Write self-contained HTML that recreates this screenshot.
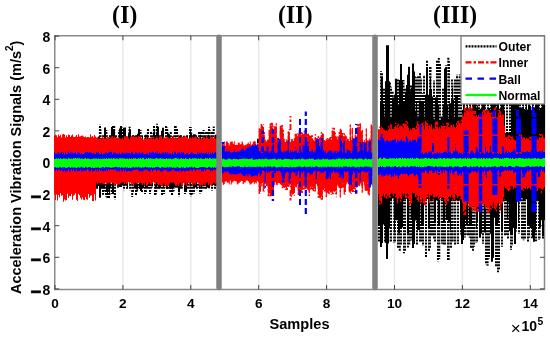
<!DOCTYPE html>
<html><head><meta charset="utf-8"><style>
html,body{margin:0;padding:0;background:#fff;overflow:hidden}
svg{display:block}
</style></head><body>
<svg width="550" height="338" viewBox="0 0 550 338">
<rect width="550" height="338" fill="#fff"/>
<line x1="122.90" y1="35.75" x2="122.90" y2="289.5" stroke="#e8e8e8" stroke-width="1.4"/>
<line x1="190.80" y1="35.75" x2="190.80" y2="289.5" stroke="#e8e8e8" stroke-width="1.4"/>
<line x1="258.70" y1="35.75" x2="258.70" y2="289.5" stroke="#e8e8e8" stroke-width="1.4"/>
<line x1="326.60" y1="35.75" x2="326.60" y2="289.5" stroke="#e8e8e8" stroke-width="1.4"/>
<line x1="394.50" y1="35.75" x2="394.50" y2="289.5" stroke="#e8e8e8" stroke-width="1.4"/>
<line x1="462.40" y1="35.75" x2="462.40" y2="289.5" stroke="#e8e8e8" stroke-width="1.4"/>
<line x1="530.30" y1="35.75" x2="530.30" y2="289.5" stroke="#e8e8e8" stroke-width="1.4"/>
<rect x="54.75" y="35.75" width="489.75" height="253.75" fill="none" stroke="#8a8a8a" stroke-width="1.5"/>
<line x1="55.0" y1="289.5" x2="55.0" y2="285.0" stroke="#444" stroke-width="1"/>
<line x1="55.0" y1="35.75" x2="55.0" y2="40.25" stroke="#444" stroke-width="1"/>
<line x1="122.9" y1="289.5" x2="122.9" y2="285.0" stroke="#444" stroke-width="1"/>
<line x1="122.9" y1="35.75" x2="122.9" y2="40.25" stroke="#444" stroke-width="1"/>
<line x1="190.8" y1="289.5" x2="190.8" y2="285.0" stroke="#444" stroke-width="1"/>
<line x1="190.8" y1="35.75" x2="190.8" y2="40.25" stroke="#444" stroke-width="1"/>
<line x1="258.70000000000005" y1="289.5" x2="258.70000000000005" y2="285.0" stroke="#444" stroke-width="1"/>
<line x1="258.70000000000005" y1="35.75" x2="258.70000000000005" y2="40.25" stroke="#444" stroke-width="1"/>
<line x1="326.6" y1="289.5" x2="326.6" y2="285.0" stroke="#444" stroke-width="1"/>
<line x1="326.6" y1="35.75" x2="326.6" y2="40.25" stroke="#444" stroke-width="1"/>
<line x1="394.5" y1="289.5" x2="394.5" y2="285.0" stroke="#444" stroke-width="1"/>
<line x1="394.5" y1="35.75" x2="394.5" y2="40.25" stroke="#444" stroke-width="1"/>
<line x1="462.40000000000003" y1="289.5" x2="462.40000000000003" y2="285.0" stroke="#444" stroke-width="1"/>
<line x1="462.40000000000003" y1="35.75" x2="462.40000000000003" y2="40.25" stroke="#444" stroke-width="1"/>
<line x1="530.3000000000001" y1="289.5" x2="530.3000000000001" y2="285.0" stroke="#444" stroke-width="1"/>
<line x1="530.3000000000001" y1="35.75" x2="530.3000000000001" y2="40.25" stroke="#444" stroke-width="1"/>
<line x1="54.75" y1="288.9" x2="59.25" y2="288.9" stroke="#444" stroke-width="1"/>
<line x1="544.5" y1="288.9" x2="540.0" y2="288.9" stroke="#444" stroke-width="1"/>
<line x1="54.75" y1="257.3" x2="59.25" y2="257.3" stroke="#444" stroke-width="1"/>
<line x1="544.5" y1="257.3" x2="540.0" y2="257.3" stroke="#444" stroke-width="1"/>
<line x1="54.75" y1="225.7" x2="59.25" y2="225.7" stroke="#444" stroke-width="1"/>
<line x1="544.5" y1="225.7" x2="540.0" y2="225.7" stroke="#444" stroke-width="1"/>
<line x1="54.75" y1="194.1" x2="59.25" y2="194.1" stroke="#444" stroke-width="1"/>
<line x1="544.5" y1="194.1" x2="540.0" y2="194.1" stroke="#444" stroke-width="1"/>
<line x1="54.75" y1="162.5" x2="59.25" y2="162.5" stroke="#444" stroke-width="1"/>
<line x1="544.5" y1="162.5" x2="540.0" y2="162.5" stroke="#444" stroke-width="1"/>
<line x1="54.75" y1="130.9" x2="59.25" y2="130.9" stroke="#444" stroke-width="1"/>
<line x1="544.5" y1="130.9" x2="540.0" y2="130.9" stroke="#444" stroke-width="1"/>
<line x1="54.75" y1="99.3" x2="59.25" y2="99.3" stroke="#444" stroke-width="1"/>
<line x1="544.5" y1="99.3" x2="540.0" y2="99.3" stroke="#444" stroke-width="1"/>
<line x1="54.75" y1="67.69999999999999" x2="59.25" y2="67.69999999999999" stroke="#444" stroke-width="1"/>
<line x1="544.5" y1="67.69999999999999" x2="540.0" y2="67.69999999999999" stroke="#444" stroke-width="1"/>
<line x1="54.75" y1="36.099999999999994" x2="59.25" y2="36.099999999999994" stroke="#444" stroke-width="1"/>
<line x1="544.5" y1="36.099999999999994" x2="540.0" y2="36.099999999999994" stroke="#444" stroke-width="1"/>
<path d="M97.0,162.0V137.0M100.0,162.0V124.4M103.0,162.0V134.4M107.0,162.0V134.5M110.0,162.0V134.9M113.0,162.0V125.2M116.0,162.0V135.0M119.0,162.0V130.5M123.0,162.0V130.3M127.0,162.0V136.5M130.0,162.0V129.4M133.0,162.0V134.3M136.0,162.0V135.3M139.0,162.0V133.8M142.0,162.0V134.5M145.0,162.0V135.1M148.0,162.0V128.6M151.0,162.0V132.1M154.0,162.0V125.2M157.0,162.0V123.7M160.0,162.0V133.9M163.0,162.0V134.4M166.0,162.0V124.8M169.0,162.0V134.7M172.0,162.0V136.7M175.0,162.0V125.7M178.0,162.0V134.4M181.0,162.0V134.0M184.0,162.0V135.8M187.0,162.0V134.9M190.0,162.0V127.0M193.0,162.0V135.0M196.0,162.0V135.1M199.0,162.0V131.8M202.0,162.0V131.5M206.0,162.0V132.0M209.0,162.0V126.8M212.0,162.0V130.9M216.0,162.0V134.8M99.9,162.0V126.7M100.5,162.0V129.5M106.4,162.0V130.0M111.9,162.0V129.2M113.0,162.0V125.9M114.1,162.0V127.3M114.2,162.0V126.0M120.5,162.0V129.5M120.9,162.0V126.5M122.4,162.0V127.5M129.4,162.0V129.9M129.6,162.0V126.7M140.6,162.0V130.1M147.9,162.0V132.0M152.3,162.0V133.6M154.3,162.0V127.7M156.2,162.0V134.3M157.6,162.0V126.8M162.1,162.0V132.6M167.2,162.0V127.4M170.8,162.0V131.1M175.7,162.0V125.8M176.6,162.0V134.4M177.0,162.0V128.3M190.7,162.0V127.1M192.4,162.0V133.7M200.1,162.0V131.7M203.6,162.0V130.1M204.2,162.0V133.3M207.4,162.0V132.1M209.8,162.0V130.2M213.7,162.0V126.6M97.0,162.0V189.9M100.0,162.0V187.0M103.0,162.0V194.8M106.0,162.0V196.4M109.0,162.0V198.3M112.0,162.0V194.0M115.0,162.0V199.4M118.0,162.0V187.7M121.0,162.0V186.6M124.0,162.0V190.3M127.0,162.0V189.9M130.0,162.0V190.2M133.0,162.0V192.7M136.0,162.0V195.0M139.0,162.0V188.2M142.0,162.0V192.5M145.0,162.0V194.1M148.0,162.0V188.9M152.0,162.0V187.4M155.0,162.0V195.1M159.0,162.0V189.8M162.0,162.0V195.8M165.0,162.0V187.6M168.0,162.0V189.0M172.0,162.0V195.0M176.0,162.0V186.8M179.0,162.0V196.2M182.0,162.0V188.5M185.0,162.0V194.1M188.0,162.0V189.3M191.0,162.0V196.3M194.0,162.0V193.4M197.0,162.0V190.3M200.0,162.0V193.5M203.0,162.0V188.4M206.0,162.0V190.0M209.0,162.0V188.2M212.0,162.0V190.4M215.0,162.0V189.0M104.0,162.0V191.5M107.4,162.0V198.8M109.4,162.0V195.3M112.5,162.0V192.7M114.8,162.0V197.9M115.0,162.0V194.5M132.2,162.0V196.9M137.1,162.0V191.6M142.5,162.0V189.1M145.9,162.0V193.0M147.7,162.0V187.7M150.0,162.0V194.1M150.9,162.0V190.2M155.8,162.0V194.5M156.2,162.0V193.1M157.7,162.0V188.7M159.6,162.0V188.1M162.8,162.0V193.6M163.4,162.0V190.9M164.1,162.0V194.0M170.2,162.0V192.0M172.6,162.0V192.9M173.6,162.0V191.3M179.0,162.0V194.8M180.8,162.0V188.7M186.1,162.0V192.0M186.8,162.0V188.5M190.1,162.0V191.9M190.2,162.0V194.3M192.0,162.0V194.5M192.5,162.0V191.1M193.8,162.0V190.5M198.3,162.0V187.8M201.1,162.0V189.3M201.2,162.0V192.9M201.8,162.0V190.2M204.3,162.0V188.7M381.0,162.0V71.2M384.0,162.0V87.8M388.0,162.0V86.1M391.0,162.0V86.7M395.0,162.0V95.8M398.0,162.0V78.8M401.0,162.0V88.4M405.0,162.0V88.4M408.0,162.0V99.8M412.0,162.0V89.9M415.0,162.0V76.5M418.0,162.0V75.2M421.0,162.0V78.1M424.0,162.0V75.0M427.0,162.0V59.8M430.0,162.0V66.2M434.0,162.0V80.5M437.0,162.0V60.2M440.0,162.0V63.6M443.0,162.0V87.7M446.0,162.0V65.2M449.0,162.0V61.3M452.0,162.0V79.6M455.0,162.0V78.2M458.0,162.0V78.4M461.0,162.0V82.2M464.0,162.0V97.4M467.0,162.0V95.1M470.0,162.0V93.4M473.0,162.0V100.0M476.0,162.0V95.9M479.0,162.0V98.5M482.0,162.0V101.7M485.0,162.0V95.3M488.0,162.0V92.3M491.0,162.0V101.3M494.0,162.0V98.0M497.0,162.0V92.8M501.0,162.0V101.8M504.0,162.0V98.2M507.0,162.0V97.9M510.0,162.0V99.5M514.0,162.0V101.7M517.0,162.0V92.3M520.0,162.0V95.3M523.0,162.0V92.0M526.0,162.0V94.0M529.0,162.0V99.2M533.0,162.0V97.7M536.0,162.0V99.7M539.0,162.0V99.9M542.0,162.0V92.9M382.0,162.0V73.3M390.0,162.0V82.7M392.7,162.0V90.7M398.2,162.0V82.7M403.5,162.0V80.0M411.0,162.0V85.0M416.0,162.0V77.3M420.0,162.0V72.0M423.0,162.0V93.0M427.0,162.0V61.8M430.5,162.0V66.7M434.0,162.0V82.7M438.8,162.0V58.0M448.3,162.0V56.7M452.5,162.0V83.3M457.0,162.0V74.7M459.7,162.0V74.4M379.0,162.0V241.7M382.0,162.0V241.7M385.0,162.0V242.7M388.0,162.0V243.5M391.0,162.0V242.2M395.0,162.0V241.6M398.0,162.0V248.8M401.0,162.0V244.5M404.0,162.0V253.3M408.0,162.0V247.6M411.0,162.0V240.5M414.0,162.0V243.8M417.0,162.0V245.5M420.0,162.0V242.4M423.0,162.0V245.9M426.0,162.0V257.2M429.0,162.0V251.0M432.0,162.0V236.2M435.0,162.0V241.6M438.0,162.0V261.5M442.0,162.0V243.8M445.0,162.0V244.8M448.0,162.0V260.3M451.0,162.0V248.6M455.0,162.0V245.3M458.0,162.0V243.7M461.0,162.0V234.4M465.0,162.0V237.6M468.0,162.0V236.2M471.0,162.0V248.5M474.0,162.0V246.8M477.0,162.0V241.6M480.0,162.0V234.5M483.0,162.0V243.7M486.0,162.0V264.6M489.0,162.0V258.4M492.0,162.0V238.9M496.0,162.0V267.1M499.0,162.0V269.2M502.0,162.0V246.7M505.0,162.0V236.3M508.0,162.0V239.4M512.0,162.0V245.9M516.0,162.0V231.5M519.0,162.0V233.7M522.0,162.0V238.4M525.0,162.0V238.8M528.0,162.0V241.5M532.0,162.0V238.2M536.0,162.0V241.3M539.0,162.0V240.0M543.0,162.0V238.5M385.0,162.0V240.0M390.6,162.0V241.7M394.2,162.0V243.0M399.8,162.0V252.0M405.0,162.0V251.0M409.3,162.0V245.7M417.0,162.0V239.0M421.0,162.0V241.7M426.0,162.0V255.0M430.0,162.0V248.0M434.0,162.0V239.0M439.3,162.0V259.0M443.6,162.0V245.7M448.7,162.0V260.0M452.7,162.0V241.7M457.8,162.0V244.0M465.7,162.0V235.0M469.7,162.0V237.7M473.0,162.0V251.0M476.3,162.0V243.0M483.6,162.0V232.0M487.6,162.0V265.7M498.0,162.0V272.3M502.0,162.0V243.0M507.0,162.0V235.0M511.0,162.0V249.7M519.0,162.0V232.0M523.6,162.0V240.3M529.0,162.0V237.7M539.6,162.0V239.0" stroke="#000000" stroke-width="2.0" fill="none" stroke-dasharray="2 1.1"/>
<path d="M96.0,138.1H97.0V138.1H98.0V136.4H99.0V136.4H100.0V138.3H101.0V138.3H102.0V138.3H103.0V138.0H104.0V127.5H105.0V127.5H106.0V146.9H107.0V137.4H108.0V137.4H109.0V137.4H110.0V137.0H111.0V127.0H112.0V127.0H113.0V129.7H114.0V129.0H115.0V136.2H116.0V138.1H117.0V138.4H118.0V147.4H119.0V128.6H120.0V126.0H121.0V126.0H122.0V135.0H123.0V128.1H124.0V127.4H125.0V127.4H126.0V137.0H127.0V137.7H128.0V133.5H129.0V128.3H130.0V131.1H131.0V136.6H132.0V135.4H133.0V135.4H134.0V135.8H135.0V135.8H136.0V135.8H137.0V133.7H138.0V129.1H139.0V129.1H140.0V152.4H141.0V153.2H142.0V136.6H143.0V150.5H144.0V150.5H145.0V134.7H146.0V134.7H147.0V134.7H148.0V138.1H149.0V138.1H150.0V138.1H151.0V137.6H152.0V137.6H153.0V131.8H154.0V129.9H155.0V135.1H156.0V131.8H157.0V126.7H158.0V126.7H159.0V144.6H160.0V145.3H161.0V130.7H162.0V127.8H163.0V127.8H164.0V138.0H165.0V137.9H166.0V152.0H167.0V133.3H168.0V133.3H169.0V134.2H170.0V149.9H171.0V149.9H172.0V136.4H173.0V135.6H174.0V150.7H175.0V150.7H176.0V138.2H177.0V138.2H178.0V138.2H179.0V135.6H180.0V135.6H181.0V152.9H182.0V138.1H183.0V138.1H184.0V137.5H185.0V137.5H186.0V137.5H187.0V153.3H188.0V146.8H189.0V135.1H190.0V131.1H191.0V133.4H192.0V143.4H193.0V134.3H194.0V134.3H195.0V134.6H196.0V136.9H197.0V136.9H198.0V145.2H199.0V135.2H200.0V134.8H201.0V142.3H202.0V137.5H203.0V137.5H204.0V137.3H205.0V136.7H206.0V136.7H207.0V136.7H208.0V134.8H209.0V135.9H210.0V135.9H211.0V135.9H212.0V150.2H213.0V138.3H214.0V138.3H215.0V134.8H216.0V134.8H217.0V162.0H216.0V162.0H215.0V162.0H214.0V162.0H213.0V162.0H212.0V162.0H211.0V162.0H210.0V162.0H209.0V162.0H208.0V162.0H207.0V162.0H206.0V162.0H205.0V162.0H204.0V162.0H203.0V162.0H202.0V162.0H201.0V162.0H200.0V162.0H199.0V162.0H198.0V162.0H197.0V162.0H196.0V162.0H195.0V162.0H194.0V162.0H193.0V162.0H192.0V162.0H191.0V162.0H190.0V162.0H189.0V162.0H188.0V162.0H187.0V162.0H186.0V162.0H185.0V162.0H184.0V162.0H183.0V162.0H182.0V162.0H181.0V162.0H180.0V162.0H179.0V162.0H178.0V162.0H177.0V162.0H176.0V162.0H175.0V162.0H174.0V162.0H173.0V162.0H172.0V162.0H171.0V162.0H170.0V162.0H169.0V162.0H168.0V162.0H167.0V162.0H166.0V162.0H165.0V162.0H164.0V162.0H163.0V162.0H162.0V162.0H161.0V162.0H160.0V162.0H159.0V162.0H158.0V162.0H157.0V162.0H156.0V162.0H155.0V162.0H154.0V162.0H153.0V162.0H152.0V162.0H151.0V162.0H150.0V162.0H149.0V162.0H148.0V162.0H147.0V162.0H146.0V162.0H145.0V162.0H144.0V162.0H143.0V162.0H142.0V162.0H141.0V162.0H140.0V162.0H139.0V162.0H138.0V162.0H137.0V162.0H136.0V162.0H135.0V162.0H134.0V162.0H133.0V162.0H132.0V162.0H131.0V162.0H130.0V162.0H129.0V162.0H128.0V162.0H127.0V162.0H126.0V162.0H125.0V162.0H124.0V162.0H123.0V162.0H122.0V162.0H121.0V162.0H120.0V162.0H119.0V162.0H118.0V162.0H117.0V162.0H116.0V162.0H115.0V162.0H114.0V162.0H113.0V162.0H112.0V162.0H111.0V162.0H110.0V162.0H109.0V162.0H108.0V162.0H107.0V162.0H106.0V162.0H105.0V162.0H104.0V162.0H103.0V162.0H102.0V162.0H101.0V162.0H100.0V162.0H99.0V162.0H98.0V162.0H97.0V162.0H96.0ZM96.0,162.0H97.0V162.0H98.0V162.0H99.0V162.0H100.0V162.0H101.0V162.0H102.0V162.0H103.0V162.0H104.0V162.0H105.0V162.0H106.0V162.0H107.0V162.0H108.0V162.0H109.0V162.0H110.0V162.0H111.0V162.0H112.0V162.0H113.0V162.0H114.0V162.0H115.0V162.0H116.0V162.0H117.0V162.0H118.0V162.0H119.0V162.0H120.0V162.0H121.0V162.0H122.0V162.0H123.0V162.0H124.0V162.0H125.0V162.0H126.0V162.0H127.0V162.0H128.0V162.0H129.0V162.0H130.0V162.0H131.0V162.0H132.0V162.0H133.0V162.0H134.0V162.0H135.0V162.0H136.0V162.0H137.0V162.0H138.0V162.0H139.0V162.0H140.0V162.0H141.0V162.0H142.0V162.0H143.0V162.0H144.0V162.0H145.0V162.0H146.0V162.0H147.0V162.0H148.0V162.0H149.0V162.0H150.0V162.0H151.0V162.0H152.0V162.0H153.0V162.0H154.0V162.0H155.0V162.0H156.0V162.0H157.0V162.0H158.0V162.0H159.0V162.0H160.0V162.0H161.0V162.0H162.0V162.0H163.0V162.0H164.0V162.0H165.0V162.0H166.0V162.0H167.0V162.0H168.0V162.0H169.0V162.0H170.0V162.0H171.0V162.0H172.0V162.0H173.0V162.0H174.0V162.0H175.0V162.0H176.0V162.0H177.0V162.0H178.0V162.0H179.0V162.0H180.0V162.0H181.0V162.0H182.0V162.0H183.0V162.0H184.0V162.0H185.0V162.0H186.0V162.0H187.0V162.0H188.0V162.0H189.0V162.0H190.0V162.0H191.0V162.0H192.0V162.0H193.0V162.0H194.0V162.0H195.0V162.0H196.0V162.0H197.0V162.0H198.0V162.0H199.0V162.0H200.0V162.0H201.0V162.0H202.0V162.0H203.0V162.0H204.0V162.0H205.0V162.0H206.0V162.0H207.0V162.0H208.0V162.0H209.0V162.0H210.0V162.0H211.0V162.0H212.0V162.0H213.0V162.0H214.0V162.0H215.0V162.0H216.0V162.0H217.0V185.7H216.0V185.7H215.0V185.1H214.0V185.1H213.0V185.0H212.0V185.0H211.0V185.0H210.0V187.8H209.0V187.8H208.0V187.8H207.0V187.6H206.0V179.4H205.0V185.8H204.0V186.3H203.0V186.3H202.0V187.0H201.0V186.6H200.0V188.6H199.0V170.8H198.0V170.8H197.0V186.9H196.0V187.6H195.0V187.6H194.0V187.6H193.0V170.6H192.0V170.6H191.0V186.4H190.0V173.7H189.0V175.3H188.0V185.3H187.0V190.3H186.0V190.3H185.0V190.3H184.0V171.6H183.0V171.6H182.0V186.7H181.0V186.7H180.0V192.3H179.0V192.3H178.0V187.7H177.0V187.7H176.0V187.7H175.0V187.1H174.0V187.1H173.0V189.4H172.0V188.8H171.0V188.8H170.0V188.8H169.0V172.1H168.0V188.9H167.0V188.9H166.0V186.1H165.0V186.1H164.0V187.0H163.0V183.6H162.0V173.6H161.0V188.6H160.0V188.6H159.0V188.6H158.0V171.8H157.0V186.9H156.0V188.4H155.0V171.2H154.0V174.0H153.0V186.2H152.0V186.2H151.0V186.1H150.0V186.1H149.0V186.1H148.0V187.7H147.0V187.7H146.0V187.7H145.0V171.7H144.0V187.9H143.0V187.9H142.0V191.0H141.0V191.0H140.0V188.9H139.0V182.2H138.0V189.8H137.0V189.4H136.0V188.5H135.0V188.5H134.0V172.9H133.0V172.9H132.0V172.6H131.0V172.6H130.0V171.8H129.0V171.8H128.0V188.8H127.0V171.3H126.0V185.8H125.0V185.8H124.0V185.4H123.0V185.4H122.0V187.1H121.0V187.1H120.0V187.1H119.0V186.7H118.0V186.7H117.0V172.2H116.0V172.9H115.0V176.7H114.0V194.1H113.0V194.1H112.0V179.4H111.0V188.6H110.0V193.2H109.0V189.8H108.0V193.8H107.0V191.1H106.0V181.1H105.0V188.3H104.0V188.3H103.0V188.4H102.0V188.7H101.0V197.8H100.0V197.8H99.0V186.1H98.0V187.1H97.0V187.1H96.0ZM233.0,148.0H236.0V152.0H233.0ZM257.0,138.8H259.5V143.3H257.0ZM380.0,103.1H381.0V78.0H382.0V78.0H383.0V103.7H384.0V116.3H385.0V81.3H386.0V45.3H387.0V45.3H388.0V45.3H389.0V81.3H390.0V117.8H391.0V117.8H392.0V97.4H393.0V97.4H394.0V94.7H395.0V78.7H396.0V78.7H397.0V94.7H398.0V106.0H399.0V80.0H400.0V64.0H401.0V64.0H402.0V80.0H403.0V101.3H404.0V101.3H405.0V93.0H406.0V85.0H407.0V74.7H408.0V66.7H409.0V66.7H410.0V90.7H411.0V87.5H412.0V63.5H413.0V63.5H414.0V71.5H415.0V111.5H416.0V103.0H417.0V116.6H418.0V116.6H419.0V100.5H420.0V100.5H421.0V102.7H422.0V102.7H423.0V102.7H424.0V116.7H425.0V94.8H426.0V67.8H427.0V67.8H428.0V94.8H429.0V89.0H430.0V77.0H431.0V89.0H432.0V96.5H433.0V118.4H434.0V119.2H435.0V97.3H436.0V97.3H437.0V97.3H438.0V105.7H439.0V119.7H440.0V119.7H441.0V116.4H442.0V116.4H443.0V104.5H444.0V68.5H445.0V68.5H446.0V68.5H447.0V104.5H448.0V119.1H449.0V103.3H450.0V103.3H451.0V99.7H452.0V87.7H453.0V99.7H454.0V117.4H455.0V96.5H456.0V96.5H457.0V96.5H458.0V118.0H459.0V118.0H460.0V117.3H461.0V117.3H462.0V109.9H463.0V97.0H464.0V97.0H465.0V108.2H466.0V108.2H467.0V105.5H468.0V109.7H469.0V109.7H470.0V104.0H471.0V108.5H472.0V104.9H473.0V102.8H474.0V102.8H475.0V102.8H476.0V108.8H477.0V105.3H478.0V109.4H479.0V109.4H480.0V108.8H481.0V108.8H482.0V97.0H483.0V97.0H484.0V97.0H485.0V110.4H486.0V109.4H487.0V109.4H488.0V108.4H489.0V108.1H490.0V109.7H491.0V96.6H492.0V96.6H493.0V96.6H494.0V102.3H495.0V102.3H496.0V108.0H497.0V103.7H498.0V103.7H499.0V108.7H500.0V108.7H501.0V101.4H502.0V101.4H503.0V96.9H504.0V110.2H505.0V133.0H506.0V133.0H507.0V132.4H508.0V132.4H509.0V132.1H510.0V132.1H511.0V101.5H512.0V101.5H513.0V103.7H514.0V103.7H515.0V98.6H516.0V98.6H517.0V98.6H518.0V101.6H519.0V107.7H520.0V107.7H521.0V107.4H522.0V107.4H523.0V106.6H524.0V109.0H525.0V109.4H526.0V98.7H527.0V109.6H528.0V105.8H529.0V105.8H530.0V105.8H531.0V109.9H532.0V104.1H533.0V107.6H534.0V107.6H535.0V105.2H536.0V102.8H537.0V102.8H538.0V102.8H539.0V109.6H540.0V108.0H541.0V108.0H542.0V104.1H543.0V104.1H544.0V104.1H545.0V162.0H544.0V162.0H543.0V162.0H542.0V162.0H541.0V162.0H540.0V162.0H539.0V162.0H538.0V162.0H537.0V162.0H536.0V162.0H535.0V162.0H534.0V162.0H533.0V162.0H532.0V162.0H531.0V162.0H530.0V162.0H529.0V162.0H528.0V162.0H527.0V162.0H526.0V162.0H525.0V162.0H524.0V162.0H523.0V162.0H522.0V162.0H521.0V162.0H520.0V162.0H519.0V162.0H518.0V162.0H517.0V162.0H516.0V162.0H515.0V162.0H514.0V162.0H513.0V162.0H512.0V162.0H511.0V162.0H510.0V162.0H509.0V162.0H508.0V162.0H507.0V162.0H506.0V162.0H505.0V162.0H504.0V162.0H503.0V162.0H502.0V162.0H501.0V162.0H500.0V162.0H499.0V162.0H498.0V162.0H497.0V162.0H496.0V162.0H495.0V162.0H494.0V162.0H493.0V162.0H492.0V162.0H491.0V162.0H490.0V162.0H489.0V162.0H488.0V162.0H487.0V162.0H486.0V162.0H485.0V162.0H484.0V162.0H483.0V162.0H482.0V162.0H481.0V162.0H480.0V162.0H479.0V162.0H478.0V162.0H477.0V162.0H476.0V162.0H475.0V162.0H474.0V162.0H473.0V162.0H472.0V162.0H471.0V162.0H470.0V162.0H469.0V162.0H468.0V162.0H467.0V162.0H466.0V162.0H465.0V162.0H464.0V162.0H463.0V162.0H462.0V162.0H461.0V162.0H460.0V162.0H459.0V162.0H458.0V162.0H457.0V162.0H456.0V162.0H455.0V162.0H454.0V162.0H453.0V162.0H452.0V162.0H451.0V162.0H450.0V162.0H449.0V162.0H448.0V162.0H447.0V162.0H446.0V162.0H445.0V162.0H444.0V162.0H443.0V162.0H442.0V162.0H441.0V162.0H440.0V162.0H439.0V162.0H438.0V162.0H437.0V162.0H436.0V162.0H435.0V162.0H434.0V162.0H433.0V162.0H432.0V162.0H431.0V162.0H430.0V162.0H429.0V162.0H428.0V162.0H427.0V162.0H426.0V162.0H425.0V162.0H424.0V162.0H423.0V162.0H422.0V162.0H421.0V162.0H420.0V162.0H419.0V162.0H418.0V162.0H417.0V162.0H416.0V162.0H415.0V162.0H414.0V162.0H413.0V162.0H412.0V162.0H411.0V162.0H410.0V162.0H409.0V162.0H408.0V162.0H407.0V162.0H406.0V162.0H405.0V162.0H404.0V162.0H403.0V162.0H402.0V162.0H401.0V162.0H400.0V162.0H399.0V162.0H398.0V162.0H397.0V162.0H396.0V162.0H395.0V162.0H394.0V162.0H393.0V162.0H392.0V162.0H391.0V162.0H390.0V162.0H389.0V162.0H388.0V162.0H387.0V162.0H386.0V162.0H385.0V162.0H384.0V162.0H383.0V162.0H382.0V162.0H381.0V162.0H380.0ZM378.0,162.0H379.0V162.0H380.0V162.0H381.0V162.0H382.0V162.0H383.0V162.0H384.0V162.0H385.0V162.0H386.0V162.0H387.0V162.0H388.0V162.0H389.0V162.0H390.0V162.0H391.0V162.0H392.0V162.0H393.0V162.0H394.0V162.0H395.0V162.0H396.0V162.0H397.0V162.0H398.0V162.0H399.0V162.0H400.0V162.0H401.0V162.0H402.0V162.0H403.0V162.0H404.0V162.0H405.0V162.0H406.0V162.0H407.0V162.0H408.0V162.0H409.0V162.0H410.0V162.0H411.0V162.0H412.0V162.0H413.0V162.0H414.0V162.0H415.0V162.0H416.0V162.0H417.0V162.0H418.0V162.0H419.0V162.0H420.0V162.0H421.0V162.0H422.0V162.0H423.0V162.0H424.0V162.0H425.0V162.0H426.0V162.0H427.0V162.0H428.0V162.0H429.0V162.0H430.0V162.0H431.0V162.0H432.0V162.0H433.0V162.0H434.0V162.0H435.0V162.0H436.0V162.0H437.0V162.0H438.0V162.0H439.0V162.0H440.0V162.0H441.0V162.0H442.0V162.0H443.0V162.0H444.0V162.0H445.0V162.0H446.0V162.0H447.0V162.0H448.0V162.0H449.0V162.0H450.0V162.0H451.0V162.0H452.0V162.0H453.0V162.0H454.0V162.0H455.0V162.0H456.0V162.0H457.0V162.0H458.0V162.0H459.0V162.0H460.0V162.0H461.0V162.0H462.0V162.0H463.0V162.0H464.0V162.0H465.0V162.0H466.0V162.0H467.0V162.0H468.0V162.0H469.0V162.0H470.0V162.0H471.0V162.0H472.0V162.0H473.0V162.0H474.0V162.0H475.0V162.0H476.0V162.0H477.0V162.0H478.0V162.0H479.0V162.0H480.0V162.0H481.0V162.0H482.0V162.0H483.0V162.0H484.0V162.0H485.0V162.0H486.0V162.0H487.0V162.0H488.0V162.0H489.0V162.0H490.0V162.0H491.0V162.0H492.0V162.0H493.0V162.0H494.0V162.0H495.0V162.0H496.0V162.0H497.0V162.0H498.0V162.0H499.0V162.0H500.0V162.0H501.0V162.0H502.0V162.0H503.0V162.0H504.0V162.0H505.0V162.0H506.0V162.0H507.0V162.0H508.0V162.0H509.0V162.0H510.0V162.0H511.0V162.0H512.0V162.0H513.0V162.0H514.0V162.0H515.0V162.0H516.0V162.0H517.0V162.0H518.0V162.0H519.0V162.0H520.0V162.0H521.0V162.0H522.0V162.0H523.0V162.0H524.0V162.0H525.0V162.0H526.0V162.0H527.0V162.0H528.0V162.0H529.0V162.0H530.0V162.0H531.0V162.0H532.0V162.0H533.0V162.0H534.0V162.0H535.0V162.0H536.0V162.0H537.0V162.0H538.0V162.0H539.0V162.0H540.0V162.0H541.0V162.0H542.0V162.0H543.0V162.0H544.0V162.0H545.0V220.3H544.0V236.3H543.0V236.3H542.0V220.3H541.0V227.3H540.0V227.3H539.0V201.2H538.0V201.2H537.0V201.3H536.0V229.9H535.0V241.7H534.0V241.7H533.0V237.7H532.0V228.0H531.0V228.0H530.0V226.5H529.0V225.0H528.0V225.0H527.0V199.3H526.0V199.3H525.0V200.7H524.0V200.7H523.0V198.6H522.0V198.6H521.0V199.7H520.0V199.7H519.0V222.0H518.0V201.4H517.0V228.0H516.0V244.0H515.0V244.0H514.0V228.0H513.0V233.9H512.0V233.9H511.0V233.9H510.0V231.2H509.0V201.9H508.0V219.5H507.0V200.8H506.0V200.8H505.0V199.1H504.0V201.6H503.0V231.9H502.0V231.9H501.0V199.4H500.0V199.4H499.0V222.8H498.0V225.5H497.0V225.4H496.0V225.4H495.0V217.7H494.0V257.7H493.0V261.7H492.0V261.7H491.0V233.7H490.0V200.1H489.0V200.1H488.0V198.6H487.0V199.8H486.0V232.6H485.0V232.6H484.0V198.4H483.0V198.4H482.0V233.7H481.0V237.7H480.0V237.7H479.0V209.7H478.0V221.1H477.0V227.4H476.0V198.8H475.0V199.8H474.0V201.4H473.0V201.4H472.0V224.7H471.0V224.7H470.0V224.7H469.0V200.6H468.0V225.1H467.0V225.1H466.0V219.7H465.0V228.0H464.0V240.0H463.0V244.0H462.0V244.0H461.0V226.9H460.0V200.8H459.0V200.8H458.0V200.6H457.0V200.6H456.0V200.1H455.0V201.1H454.0V201.1H453.0V200.4H452.0V200.4H451.0V229.8H450.0V222.5H449.0V222.5H448.0V220.1H447.0V220.1H446.0V201.5H445.0V221.3H444.0V221.3H443.0V199.2H442.0V199.2H441.0V198.2H440.0V224.1H439.0V224.1H438.0V200.6H437.0V200.6H436.0V223.3H435.0V223.3H434.0V199.7H433.0V199.4H432.0V201.3H431.0V201.3H430.0V227.2H429.0V227.2H428.0V199.0H427.0V199.0H426.0V198.3H425.0V198.3H424.0V226.1H423.0V226.1H422.0V226.1H421.0V198.2H420.0V230.1H419.0V230.1H418.0V230.1H417.0V220.5H416.0V220.5H415.0V244.0H414.0V248.0H413.0V248.0H412.0V220.0H411.0V198.4H410.0V198.4H409.0V233.2H408.0V233.2H407.0V199.0H406.0V199.0H405.0V199.0H404.0V201.2H403.0V227.4H402.0V227.4H401.0V227.4H400.0V233.1H399.0V233.1H398.0V220.2H397.0V220.2H396.0V220.2H395.0V232.4H394.0V198.4H393.0V198.4H392.0V201.3H391.0V201.3H390.0V228.2H389.0V243.0H388.0V259.0H387.0V259.0H386.0V243.0H385.0V224.4H384.0V224.4H383.0V243.0H382.0V247.0H381.0V247.0H380.0V224.9H379.0V224.9H378.0Z" fill="#000000"/>
<path d="M54.0,135.5H55.0V134.7H56.0V135.2H57.0V137.3H58.0V134.6H59.0V135.9H60.0V134.7H61.0V137.4H62.0V134.4H63.0V134.1H64.0V134.4H65.0V137.5H66.0V135.3H67.0V137.0H68.0V134.4H69.0V134.9H70.0V137.0H71.0V135.6H72.0V134.4H73.0V136.7H74.0V136.9H75.0V136.6H76.0V135.1H77.0V137.1H78.0V134.2H79.0V136.6H80.0V136.3H81.0V135.7H82.0V135.6H83.0V136.4H84.0V137.0H85.0V136.4H86.0V137.5H87.0V137.1H88.0V136.9H89.0V137.4H90.0V134.3H91.0V136.7H92.0V136.0H93.0V137.4H94.0V135.0H95.0V136.5H96.0V138.1H97.0V137.3H98.0V138.8H99.0V139.0H100.0V138.7H101.0V138.4H102.0V136.3H103.0V137.7H104.0V138.5H105.0V138.7H106.0V139.3H107.0V136.0H108.0V137.4H109.0V139.1H110.0V137.7H111.0V136.5H112.0V136.2H113.0V138.3H114.0V136.6H115.0V137.6H116.0V137.5H117.0V137.4H118.0V137.5H119.0V138.2H120.0V138.7H121.0V139.1H122.0V137.8H123.0V139.4H124.0V136.1H125.0V136.4H126.0V136.1H127.0V136.9H128.0V137.8H129.0V139.5H130.0V137.1H131.0V136.4H132.0V136.7H133.0V136.3H134.0V136.7H135.0V136.8H136.0V136.8H137.0V137.6H138.0V136.1H139.0V136.8H140.0V136.0H141.0V138.5H142.0V138.7H143.0V139.6H144.0V139.0H145.0V139.0H146.0V136.9H147.0V139.1H148.0V137.1H149.0V138.4H150.0V137.6H151.0V138.0H152.0V139.0H153.0V136.6H154.0V139.3H155.0V138.2H156.0V136.4H157.0V137.8H158.0V139.4H159.0V136.4H160.0V136.1H161.0V136.2H162.0V138.9H163.0V137.0H164.0V137.5H165.0V137.8H166.0V137.2H167.0V136.7H168.0V137.8H169.0V138.3H170.0V137.0H171.0V139.0H172.0V137.9H173.0V136.4H174.0V138.4H175.0V137.3H176.0V138.2H177.0V138.8H178.0V136.1H179.0V137.5H180.0V137.5H181.0V136.8H182.0V136.8H183.0V137.1H184.0V136.5H185.0V136.2H186.0V137.0H187.0V137.0H188.0V138.4H189.0V138.3H190.0V137.3H191.0V138.3H192.0V136.9H193.0V137.6H194.0V137.2H195.0V136.3H196.0V137.2H197.0V139.0H198.0V138.5H199.0V136.7H200.0V139.2H201.0V138.5H202.0V139.5H203.0V136.7H204.0V138.1H205.0V138.4H206.0V136.1H207.0V137.5H208.0V138.9H209.0V139.1H210.0V136.3H211.0V137.0H212.0V136.7H213.0V138.1H214.0V136.6H215.0V139.0H216.0V138.3H217.0V183.0H216.0V183.8H215.0V183.3H214.0V182.4H213.0V184.0H212.0V185.9H211.0V185.6H210.0V183.8H209.0V184.9H208.0V182.3H207.0V182.7H206.0V184.6H205.0V185.0H204.0V183.8H203.0V185.4H202.0V185.3H201.0V185.6H200.0V185.6H199.0V183.6H198.0V182.1H197.0V182.2H196.0V184.4H195.0V183.5H194.0V183.8H193.0V186.0H192.0V182.9H191.0V182.2H190.0V185.9H189.0V182.8H188.0V183.1H187.0V185.8H186.0V182.6H185.0V185.0H184.0V183.2H183.0V185.5H182.0V185.6H181.0V182.6H180.0V183.2H179.0V185.9H178.0V184.6H177.0V185.7H176.0V185.8H175.0V183.7H174.0V182.4H173.0V182.5H172.0V183.1H171.0V182.5H170.0V183.4H169.0V185.8H168.0V186.0H167.0V184.7H166.0V185.9H165.0V184.7H164.0V183.6H163.0V185.5H162.0V185.0H161.0V185.1H160.0V184.6H159.0V185.2H158.0V184.0H157.0V182.3H156.0V184.4H155.0V183.2H154.0V182.0H153.0V183.2H152.0V184.7H151.0V183.9H150.0V182.3H149.0V183.7H148.0V185.4H147.0V186.0H146.0V182.1H145.0V184.7H144.0V183.2H143.0V185.2H142.0V182.9H141.0V182.7H140.0V182.9H139.0V182.3H138.0V183.9H137.0V183.6H136.0V182.6H135.0V183.6H134.0V185.4H133.0V183.7H132.0V184.2H131.0V182.1H130.0V184.7H129.0V182.0H128.0V183.0H127.0V183.8H126.0V182.4H125.0V184.2H124.0V182.3H123.0V182.8H122.0V182.5H121.0V183.4H120.0V184.6H119.0V184.2H118.0V185.5H117.0V183.9H116.0V183.8H115.0V185.9H114.0V183.3H113.0V182.8H112.0V182.1H111.0V183.9H110.0V182.5H109.0V182.9H108.0V183.4H107.0V184.5H106.0V182.5H105.0V184.6H104.0V183.9H103.0V183.4H102.0V183.0H101.0V183.4H100.0V182.9H99.0V182.4H98.0V184.2H97.0V182.5H96.0V200.5H95.0V194.2H94.0V201.2H93.0V201.1H92.0V195.2H91.0V195.7H90.0V197.7H89.0V194.1H88.0V199.8H87.0V199.3H86.0V196.9H85.0V200.2H84.0V199.7H83.0V197.5H82.0V199.4H81.0V197.7H80.0V195.3H79.0V194.0H78.0V200.9H77.0V199.7H76.0V193.2H75.0V194.7H74.0V195.7H73.0V199.7H72.0V194.1H71.0V196.3H70.0V195.9H69.0V198.1H68.0V193.8H67.0V199.9H66.0V200.5H65.0V199.4H64.0V201.7H63.0V195.2H62.0V195.8H61.0V193.2H60.0V197.5H59.0V195.0H58.0V200.4H57.0V194.1H56.0V199.9H55.0V194.6H54.0Z" fill="#ff0000"/>
<path d="M221.8,142.2H222.8V144.7H223.8V141.5H224.8V145.8H225.8V141.4H226.8V141.4H227.8V143.1H228.8V145.4H229.8V142.6H230.8V141.5H231.8V141.4H232.8V143.7H233.8V141.3H234.8V145.0H235.8V144.8H236.8V144.9H237.8V142.4H238.8V142.7H239.8V144.5H240.8V144.4H241.8V142.7H242.8V144.4H243.8V145.4H244.8V144.8H245.8V144.8H246.8V143.8H247.8V142.5H248.8V144.0H249.8V141.4H250.8V145.2H251.8V143.9H252.8V141.7H253.8V141.0H254.8V141.4H255.8V145.3H256.8V144.5H257.8V143.8H258.8V139.6H259.8V138.8H260.8V138.5H261.8V139.2H262.8V137.6H263.8V140.4H264.8V139.5H265.8V141.6H266.8V139.6H267.8V140.0H268.8V138.9H269.8V141.1H270.8V139.2H271.8V139.8H272.8V141.6H273.8V141.3H274.8V141.5H275.8V140.4H276.8V138.1H277.8V137.9H278.8V141.8H279.8V142.4H280.8V140.7H281.8V138.8H282.8V138.5H283.8V138.7H284.8V142.0H285.8V139.3H286.8V141.0H287.8V142.2H288.8V142.0H289.8V142.0H290.8V139.2H291.8V139.0H292.8V141.1H293.8V137.9H294.8V139.1H295.8V139.1H296.8V141.6H297.8V142.5H298.8V141.0H299.8V140.7H300.8V138.7H301.8V139.5H302.8V140.2H303.8V138.5H304.8V141.4H305.8V140.1H306.8V141.9H307.8V142.4H308.8V138.4H309.8V140.5H310.8V141.1H311.8V138.5H312.8V139.7H313.8V140.9H314.8V138.1H315.8V138.0H316.8V139.8H317.8V139.7H318.8V141.5H319.8V138.1H320.8V138.7H321.8V140.0H322.8V141.5H323.8V140.0H324.8V140.8H325.8V138.9H326.8V140.0H327.8V139.4H328.8V142.1H329.8V140.5H330.8V140.2H331.8V142.2H332.8V138.2H333.8V139.3H334.8V142.2H335.8V142.3H336.8V139.2H337.8V141.6H338.8V142.3H339.8V139.2H340.8V137.9H341.8V138.7H342.8V142.5H343.8V141.6H344.8V138.0H345.8V141.8H346.8V138.8H347.8V138.9H348.8V140.9H349.8V138.8H350.8V139.7H351.8V138.2H352.8V138.8H353.8V139.2H354.8V141.9H355.8V138.5H356.8V137.6H357.8V142.3H358.8V138.6H359.8V139.4H360.8V139.4H361.8V140.6H362.8V142.1H363.8V140.1H364.8V141.7H365.8V138.9H366.8V140.3H367.8V140.4H368.8V138.5H369.8V142.3H370.8V137.9H371.8V139.8H372.8V185.5H371.8V182.9H370.8V182.0H369.8V181.9H368.8V185.6H367.8V182.1H366.8V182.6H365.8V186.3H364.8V185.3H363.8V181.7H362.8V182.4H361.8V185.8H360.8V183.6H359.8V183.4H358.8V185.6H357.8V186.2H356.8V181.8H355.8V185.3H354.8V185.7H353.8V183.2H352.8V185.5H351.8V182.5H350.8V185.2H349.8V183.9H348.8V184.0H347.8V182.4H346.8V184.4H345.8V182.1H344.8V185.3H343.8V182.6H342.8V186.1H341.8V182.4H340.8V184.4H339.8V185.7H338.8V184.4H337.8V184.4H336.8V186.0H335.8V184.8H334.8V181.7H333.8V184.1H332.8V181.6H331.8V183.9H330.8V186.3H329.8V185.1H328.8V183.4H327.8V183.3H326.8V182.8H325.8V185.1H324.8V185.0H323.8V183.6H322.8V186.4H321.8V182.9H320.8V185.1H319.8V186.5H318.8V185.9H317.8V186.0H316.8V183.6H315.8V182.9H314.8V185.5H313.8V183.1H312.8V184.1H311.8V185.8H310.8V185.1H309.8V182.4H308.8V183.3H307.8V181.6H306.8V183.1H305.8V186.4H304.8V182.2H303.8V186.4H302.8V182.3H301.8V183.0H300.8V184.8H299.8V185.4H298.8V184.9H297.8V184.2H296.8V185.1H295.8V185.6H294.8V182.8H293.8V182.6H292.8V182.1H291.8V183.1H290.8V182.0H289.8V185.8H288.8V184.5H287.8V182.2H286.8V181.5H285.8V185.3H284.8V182.7H283.8V184.9H282.8V186.5H281.8V184.9H280.8V184.3H279.8V183.0H278.8V183.1H277.8V185.2H276.8V184.7H275.8V182.2H274.8V185.3H273.8V184.4H272.8V182.6H271.8V184.6H270.8V182.4H269.8V184.6H268.8V185.1H267.8V186.0H266.8V185.9H265.8V181.9H264.8V182.0H263.8V185.7H262.8V183.1H261.8V186.4H260.8V182.6H259.8V182.7H258.8V182.1H257.8V180.9H256.8V183.5H255.8V182.6H254.8V184.0H253.8V181.9H252.8V181.7H251.8V182.8H250.8V183.6H249.8V182.8H248.8V181.2H247.8V180.6H246.8V180.8H245.8V182.5H244.8V182.4H243.8V180.5H242.8V181.0H241.8V180.8H240.8V182.1H239.8V182.7H238.8V183.4H237.8V184.4H236.8V181.6H235.8V181.1H234.8V180.8H233.8V181.5H232.8V182.6H231.8V184.5H230.8V180.6H229.8V184.5H228.8V182.5H227.8V182.7H226.8V181.3H225.8V181.7H224.8V183.9H223.8V184.9H222.8V182.6H221.8Z" fill="#ff0000"/>
<path d="M378.0,129.2H379.0V129.5H380.0V128.2H381.0V129.8H382.0V127.8H383.0V129.4H384.0V129.8H385.0V130.8H386.0V130.6H387.0V130.5H388.0V130.9H389.0V130.4H390.0V129.1H391.0V128.2H392.0V129.0H393.0V129.1H394.0V127.1H395.0V129.3H396.0V129.4H397.0V128.6H398.0V128.7H399.0V129.4H400.0V128.4H401.0V129.0H402.0V128.9H403.0V129.9H404.0V131.0H405.0V129.3H406.0V127.7H407.0V130.2H408.0V127.5H409.0V130.9H410.0V128.7H411.0V129.9H412.0V128.0H413.0V127.9H414.0V127.4H415.0V129.3H416.0V128.7H417.0V128.9H418.0V127.5H419.0V129.5H420.0V130.8H421.0V127.7H422.0V127.2H423.0V126.8H424.0V129.7H425.0V128.7H426.0V128.6H427.0V129.9H428.0V130.0H429.0V129.4H430.0V128.3H431.0V126.5H432.0V129.4H433.0V128.6H434.0V128.5H435.0V127.4H436.0V127.3H437.0V127.6H438.0V128.7H439.0V126.9H440.0V128.5H441.0V129.8H442.0V126.0H443.0V126.1H444.0V128.9H445.0V129.8H446.0V129.5H447.0V128.8H448.0V129.8H449.0V129.4H450.0V127.4H451.0V127.0H452.0V127.1H453.0V126.4H454.0V127.1H455.0V128.1H456.0V129.3H457.0V128.9H458.0V126.2H459.0V129.1H460.0V126.2H461.0V123.5H462.0V114.5H463.0V116.6H464.0V114.2H465.0V114.0H466.0V114.4H467.0V116.7H468.0V114.4H469.0V114.2H470.0V114.4H471.0V116.5H472.0V116.9H473.0V117.8H474.0V115.5H475.0V117.3H476.0V114.7H477.0V117.0H478.0V114.9H479.0V116.4H480.0V114.2H481.0V116.0H482.0V115.0H483.0V117.0H484.0V114.4H485.0V115.7H486.0V117.5H487.0V117.5H488.0V114.3H489.0V115.4H490.0V114.4H491.0V116.9H492.0V114.4H493.0V115.0H494.0V115.8H495.0V117.3H496.0V117.7H497.0V116.8H498.0V117.1H499.0V116.0H500.0V115.4H501.0V115.3H502.0V114.2H503.0V114.7H504.0V126.1H505.0V140.8H506.0V137.6H507.0V140.2H508.0V137.0H509.0V140.2H510.0V139.7H511.0V138.2H512.0V140.1H513.0V138.7H514.0V140.0H515.0V140.3H516.0V138.9H517.0V138.9H518.0V138.2H519.0V139.5H520.0V138.1H521.0V139.8H522.0V138.6H523.0V137.3H524.0V137.4H525.0V139.3H526.0V138.0H527.0V138.6H528.0V138.4H529.0V139.7H530.0V140.4H531.0V137.7H532.0V140.5H533.0V137.0H534.0V138.2H535.0V140.3H536.0V139.6H537.0V138.5H538.0V139.8H539.0V138.9H540.0V140.6H541.0V138.9H542.0V139.3H543.0V137.5H544.0V138.0H545.0V186.9H544.0V188.6H543.0V189.8H542.0V187.2H541.0V188.0H540.0V188.4H539.0V188.4H538.0V189.4H537.0V188.2H536.0V187.9H535.0V188.4H534.0V186.9H533.0V187.9H532.0V187.0H531.0V189.8H530.0V187.7H529.0V188.0H528.0V189.2H527.0V186.7H526.0V189.1H525.0V188.0H524.0V187.7H523.0V187.8H522.0V187.7H521.0V189.2H520.0V189.5H519.0V188.9H518.0V186.2H517.0V186.2H516.0V188.2H515.0V187.3H514.0V188.9H513.0V186.3H512.0V186.4H511.0V186.5H510.0V188.7H509.0V186.6H508.0V188.3H507.0V188.6H506.0V188.3H505.0V186.5H504.0V197.2H503.0V203.3H502.0V204.0H501.0V205.0H500.0V204.2H499.0V203.0H498.0V203.7H497.0V202.6H496.0V205.9H495.0V202.4H494.0V202.6H493.0V204.8H492.0V203.8H491.0V205.2H490.0V204.0H489.0V205.8H488.0V203.5H487.0V206.0H486.0V202.0H485.0V204.3H484.0V205.0H483.0V204.3H482.0V206.0H481.0V204.0H480.0V205.4H479.0V203.7H478.0V204.3H477.0V204.9H476.0V205.8H475.0V204.7H474.0V205.5H473.0V204.5H472.0V205.7H471.0V204.9H470.0V204.6H469.0V204.2H468.0V202.1H467.0V205.0H466.0V204.2H465.0V203.6H464.0V205.2H463.0V203.0H462.0V199.5H461.0V196.8H460.0V194.3H459.0V195.4H458.0V197.6H457.0V195.2H456.0V194.1H455.0V196.3H454.0V196.6H453.0V197.5H452.0V195.0H451.0V197.3H450.0V196.2H449.0V197.1H448.0V194.4H447.0V197.9H446.0V194.1H445.0V195.1H444.0V195.1H443.0V195.6H442.0V197.8H441.0V197.4H440.0V194.5H439.0V194.2H438.0V196.1H437.0V197.2H436.0V196.7H435.0V197.6H434.0V197.4H433.0V194.4H432.0V195.5H431.0V195.4H430.0V195.4H429.0V194.2H428.0V197.3H427.0V197.2H426.0V196.1H425.0V195.3H424.0V197.2H423.0V195.4H422.0V197.6H421.0V193.0H420.0V195.7H419.0V193.1H418.0V193.4H417.0V195.1H416.0V195.0H415.0V192.9H414.0V193.6H413.0V192.2H412.0V192.2H411.0V192.4H410.0V193.0H409.0V193.0H408.0V192.9H407.0V194.6H406.0V195.6H405.0V193.6H404.0V195.7H403.0V193.3H402.0V194.2H401.0V194.9H400.0V193.3H399.0V195.7H398.0V193.7H397.0V193.0H396.0V193.2H395.0V193.7H394.0V195.9H393.0V193.8H392.0V193.1H391.0V192.8H390.0V195.4H389.0V195.7H388.0V195.5H387.0V193.9H386.0V193.8H385.0V192.3H384.0V193.8H383.0V196.0H382.0V193.2H381.0V194.8H380.0V194.7H379.0V193.3H378.0Z" fill="#ff0000"/>
<path d="M221.8,143.7H222.8V146.2H223.8V143.0H224.8V147.3H225.8V142.9H226.8V142.9H227.8V144.6H228.8V146.9H229.8V144.1H230.8V143.0H231.8V142.9H232.8V145.2H233.8V142.8H234.8V146.5H235.8V146.3H236.8V146.4H237.8V143.9H238.8V144.2H239.8V146.0H240.8V144.8H241.8V144.2H242.8V145.9H243.8V146.9H244.8V146.3H245.8V146.3H246.8V145.3H247.8V144.0H248.8V145.5H249.8V142.9H250.8V146.7H251.8V145.4H252.8V143.2H253.8V142.5H254.8V142.9H255.8V146.8H256.8V146.0H257.8V145.3H258.8V131.2H259.8V131.2H260.8V127.1H261.8V127.1H262.8V127.1H263.8V135.1H264.8V141.0H265.8V143.1H266.8V141.1H267.8V141.5H268.8V130.5H269.8V126.4H270.8V125.8H271.8V125.8H272.8V129.2H273.8V129.2H274.8V129.2H275.8V126.3H276.8V139.6H277.8V139.4H278.8V143.3H279.8V127.8H280.8V127.8H281.8V127.8H282.8V132.8H283.8V140.2H284.8V143.5H285.8V140.8H286.8V142.5H287.8V132.2H288.8V132.2H289.8V143.5H290.8V140.7H291.8V140.5H292.8V142.6H293.8V139.4H294.8V134.6H295.8V136.4H296.8V136.4H297.8V136.4H298.8V133.0H299.8V134.4H300.8V134.9H301.8V134.9H302.8V134.9H303.8V133.6H304.8V133.6H305.8V133.6H306.8V136.4H307.8V136.4H308.8V136.4H309.8V138.2H310.8V138.2H311.8V138.2H312.8V141.2H313.8V142.4H314.8V136.9H315.8V139.5H316.8V138.9H317.8V138.9H318.8V138.9H319.8V139.6H320.8V135.1H321.8V135.1H322.8V135.1H323.8V141.5H324.8V142.3H325.8V140.4H326.8V140.9H327.8V140.9H328.8V140.9H329.8V139.9H330.8V139.9H331.8V130.7H332.8V130.7H333.8V130.7H334.8V135.6H335.8V139.5H336.8V139.5H337.8V139.5H338.8V135.1H339.8V131.7H340.8V131.7H341.8V136.0H342.8V136.3H343.8V136.3H344.8V136.3H345.8V139.2H346.8V140.3H347.8V140.4H348.8V142.4H349.8V127.2H350.8V141.2H351.8V130.2H352.8V140.3H353.8V140.7H354.8V137.6H355.8V138.1H356.8V127.3H357.8V127.3H358.8V127.0H359.8V126.3H360.8V133.1H361.8V133.1H362.8V143.6H363.8V141.6H364.8V143.2H365.8V131.6H366.8V141.8H367.8V141.9H368.8V140.0H369.8V143.8H370.8V127.6H371.8V127.6H372.8V141.3H371.8V139.4H370.8V143.8H369.8V140.0H368.8V141.9H367.8V141.8H366.8V140.4H365.8V143.2H364.8V141.6H363.8V143.6H362.8V142.1H361.8V140.9H360.8V140.9H359.8V140.1H358.8V143.8H357.8V139.1H356.8V140.0H355.8V143.4H354.8V140.7H353.8V140.3H352.8V139.7H351.8V141.2H350.8V140.3H349.8V142.4H348.8V140.4H347.8V140.3H346.8V143.3H345.8V139.5H344.8V143.1H343.8V144.0H342.8V140.2H341.8V139.4H340.8V140.7H339.8V143.8H338.8V143.1H337.8V140.7H336.8V143.8H335.8V143.7H334.8V140.8H333.8V139.7H332.8V143.7H331.8V141.7H330.8V142.0H329.8V143.6H328.8V140.9H327.8V141.5H326.8V140.4H325.8V142.3H324.8V141.5H323.8V143.0H322.8V141.5H321.8V140.2H320.8V139.6H319.8V143.0H318.8V141.2H317.8V141.3H316.8V139.5H315.8V139.6H314.8V142.4H313.8V141.2H312.8V140.0H311.8V142.6H310.8V142.0H309.8V139.9H308.8V143.9H307.8V143.4H306.8V141.6H305.8V142.9H304.8V140.0H303.8V141.7H302.8V141.0H301.8V140.2H300.8V142.2H299.8V142.5H298.8V144.0H297.8V143.1H296.8V140.6H295.8V140.6H294.8V139.4H293.8V142.6H292.8V140.5H291.8V140.7H290.8V143.5H289.8V143.5H288.8V143.7H287.8V142.5H286.8V140.8H285.8V143.5H284.8V140.2H283.8V140.0H282.8V140.3H281.8V142.2H280.8V143.9H279.8V143.3H278.8V139.4H277.8V139.6H276.8V141.9H275.8V143.0H274.8V142.8H273.8V143.1H272.8V141.3H271.8V140.7H270.8V142.6H269.8V140.4H268.8V141.5H267.8V141.1H266.8V143.1H265.8V141.0H264.8V141.9H263.8V139.1H262.8V140.7H261.8V140.0H260.8V140.3H259.8V141.1H258.8V145.3H257.8V146.0H256.8V146.8H255.8V142.9H254.8V142.5H253.8V143.2H252.8V145.4H251.8V146.7H250.8V142.9H249.8V145.5H248.8V144.0H247.8V145.3H246.8V146.3H245.8V146.3H244.8V146.9H243.8V145.9H242.8V144.2H241.8V145.9H240.8V146.0H239.8V144.2H238.8V143.9H237.8V146.4H236.8V146.3H235.8V146.5H234.8V142.8H233.8V145.2H232.8V142.9H231.8V143.0H230.8V144.1H229.8V146.9H228.8V144.6H227.8V142.9H226.8V142.9H225.8V147.3H224.8V143.0H223.8V146.2H222.8V143.7H221.8ZM221.8,181.1H222.8V183.4H223.8V182.4H224.8V180.2H225.8V179.8H226.8V181.2H227.8V181.0H228.8V183.0H229.8V179.1H230.8V183.0H231.8V181.1H232.8V180.0H233.8V179.3H234.8V179.6H235.8V180.1H236.8V182.9H237.8V181.9H238.8V181.2H239.8V180.6H240.8V179.3H241.8V179.5H242.8V179.0H243.8V180.9H244.8V181.0H245.8V179.3H246.8V179.1H247.8V179.7H248.8V181.3H249.8V182.1H250.8V181.3H251.8V180.2H252.8V180.4H253.8V182.5H254.8V181.1H255.8V182.0H256.8V179.4H257.8V180.6H258.8V181.2H259.8V181.1H260.8V184.9H261.8V181.6H262.8V184.2H263.8V180.5H264.8V180.4H265.8V184.4H266.8V184.5H267.8V183.6H268.8V183.1H269.8V180.9H270.8V183.1H271.8V181.1H272.8V182.9H273.8V183.8H274.8V180.7H275.8V183.2H276.8V183.7H277.8V181.6H278.8V181.5H279.8V182.8H280.8V183.4H281.8V185.0H282.8V183.4H283.8V181.2H284.8V183.8H285.8V180.0H286.8V180.7H287.8V183.0H288.8V184.3H289.8V180.5H290.8V181.6H291.8V180.6H292.8V181.1H293.8V181.3H294.8V184.1H295.8V183.6H296.8V182.7H297.8V183.4H298.8V183.9H299.8V183.3H300.8V181.5H301.8V180.8H302.8V184.9H303.8V180.7H304.8V184.9H305.8V181.6H306.8V180.1H307.8V181.8H308.8V180.9H309.8V183.6H310.8V184.3H311.8V182.6H312.8V181.6H313.8V184.0H314.8V181.4H315.8V182.1H316.8V184.5H317.8V184.4H318.8V185.0H319.8V183.6H320.8V181.4H321.8V184.9H322.8V182.1H323.8V183.5H324.8V183.6H325.8V181.3H326.8V181.8H327.8V181.9H328.8V183.6H329.8V184.8H330.8V182.4H331.8V180.1H332.8V182.6H333.8V180.2H334.8V183.3H335.8V184.5H336.8V182.9H337.8V182.9H338.8V184.2H339.8V182.9H340.8V180.9H341.8V184.6H342.8V181.1H343.8V183.8H344.8V180.6H345.8V182.9H346.8V180.9H347.8V182.5H348.8V182.4H349.8V183.7H350.8V181.0H351.8V184.0H352.8V181.7H353.8V184.2H354.8V183.8H355.8V180.3H356.8V184.7H357.8V184.1H358.8V181.9H359.8V182.1H360.8V184.3H361.8V180.9H362.8V180.2H363.8V183.8H364.8V184.8H365.8V181.1H366.8V180.6H367.8V184.1H368.8V180.4H369.8V180.5H370.8V181.4H371.8V184.0H372.8V184.0H371.8V181.4H370.8V180.5H369.8V192.7H368.8V192.7H367.8V187.9H366.8V187.9H365.8V187.9H364.8V183.8H363.8V180.2H362.8V191.0H361.8V184.3H360.8V182.1H359.8V184.3H358.8V184.3H357.8V184.7H356.8V186.7H355.8V186.7H354.8V188.9H353.8V188.9H352.8V188.9H351.8V190.8H350.8V190.8H349.8V190.8H348.8V182.5H347.8V180.9H346.8V182.9H345.8V191.4H344.8V191.4H343.8V185.5H342.8V185.5H341.8V185.5H340.8V194.6H339.8V185.6H338.8V185.6H337.8V182.9H336.8V194.3H335.8V191.0H334.8V191.0H333.8V191.3H332.8V191.3H331.8V192.0H330.8V192.0H329.8V190.8H328.8V190.8H327.8V190.8H326.8V195.1H325.8V188.5H324.8V188.5H323.8V188.5H322.8V196.7H321.8V196.7H320.8V196.7H319.8V194.7H318.8V194.7H317.8V184.5H316.8V182.1H315.8V188.4H314.8V188.4H313.8V188.4H312.8V186.7H311.8V186.7H310.8V186.7H309.8V193.1H308.8V187.9H307.8V187.9H306.8V187.9H305.8V186.5H304.8V186.5H303.8V186.5H302.8V190.1H301.8V190.1H300.8V190.1H299.8V193.2H298.8V193.2H297.8V182.7H296.8V184.5H295.8V184.5H294.8V192.8H293.8V192.8H292.8V192.8H291.8V193.7H290.8V184.0H289.8V184.3H288.8V184.0H287.8V186.9H286.8V186.9H285.8V186.9H284.8V185.3H283.8V185.3H282.8V185.3H281.8V183.4H280.8V182.8H279.8V181.5H278.8V181.6H277.8V183.7H276.8V183.2H275.8V180.7H274.8V183.8H273.8V193.1H272.8V193.1H271.8V193.1H270.8V193.2H269.8V193.2H268.8V193.2H267.8V184.5H266.8V184.4H265.8V180.4H264.8V188.6H263.8V188.6H262.8V181.6H261.8V184.9H260.8V190.9H259.8V190.9H258.8V180.6H257.8V179.4H256.8V182.0H255.8V181.1H254.8V182.5H253.8V180.4H252.8V181.5H251.8V181.5H250.8V182.1H249.8V181.3H248.8V179.7H247.8V179.1H246.8V179.3H245.8V181.0H244.8V180.9H243.8V180.9H242.8V179.5H241.8V179.3H240.8V180.6H239.8V181.2H238.8V181.9H237.8V182.9H236.8V180.1H235.8V179.6H234.8V179.3H233.8V180.0H232.8V181.1H231.8V183.0H230.8V179.1H229.8V183.0H228.8V181.0H227.8V181.2H226.8V179.8H225.8V180.2H224.8V182.4H223.8V183.4H222.8V181.1H221.8ZM378.0,130.7H379.0V131.0H380.0V129.7H381.0V131.3H382.0V129.3H383.0V130.9H384.0V131.3H385.0V132.3H386.0V132.1H387.0V132.0H388.0V131.0H389.0V131.0H390.0V129.5H391.0V129.5H392.0V130.5H393.0V130.6H394.0V128.6H395.0V127.8H396.0V130.1H397.0V128.6H398.0V128.6H399.0V130.9H400.0V128.9H401.0V128.9H402.0V128.9H403.0V128.4H404.0V128.4H405.0V126.1H406.0V126.1H407.0V126.9H408.0V129.0H409.0V132.4H410.0V130.2H411.0V131.4H412.0V129.5H413.0V129.4H414.0V128.9H415.0V130.8H416.0V130.0H417.0V126.6H418.0V126.6H419.0V128.9H420.0V128.9H421.0V128.9H422.0V127.6H423.0V127.6H424.0V131.2H425.0V125.8H426.0V125.8H427.0V125.8H428.0V130.9H429.0V130.5H430.0V129.3H431.0V128.0H432.0V130.9H433.0V130.1H434.0V130.0H435.0V126.5H436.0V126.5H437.0V126.5H438.0V130.2H439.0V128.4H440.0V130.0H441.0V128.8H442.0V127.5H443.0V127.6H444.0V130.4H445.0V130.9H446.0V127.8H447.0V127.8H448.0V127.5H449.0V130.5H450.0V128.9H451.0V128.5H452.0V128.6H453.0V127.9H454.0V128.6H455.0V129.6H456.0V126.2H457.0V126.2H458.0V125.8H459.0V125.8H460.0V125.8H461.0V124.4H462.0V116.0H463.0V118.1H464.0V111.4H465.0V112.9H466.0V112.9H467.0V112.9H468.0V111.7H469.0V111.7H470.0V111.2H471.0V111.2H472.0V111.2H473.0V115.9H474.0V115.9H475.0V115.9H476.0V116.2H477.0V118.5H478.0V116.4H479.0V117.9H480.0V115.7H481.0V117.5H482.0V115.9H483.0V114.7H484.0V114.7H485.0V114.7H486.0V115.2H487.0V115.2H488.0V115.2H489.0V116.9H490.0V115.9H491.0V117.8H492.0V115.6H493.0V115.6H494.0V111.7H495.0V111.7H496.0V119.2H497.0V118.3H498.0V114.9H499.0V114.9H500.0V114.9H501.0V116.8H502.0V115.7H503.0V116.2H504.0V127.6H505.0V141.7H506.0V139.1H507.0V140.2H508.0V138.5H509.0V140.2H510.0V141.2H511.0V139.7H512.0V141.6H513.0V140.2H514.0V141.5H515.0V141.8H516.0V140.4H517.0V140.4H518.0V139.7H519.0V139.4H520.0V139.4H521.0V139.4H522.0V140.1H523.0V138.8H524.0V138.9H525.0V140.8H526.0V139.5H527.0V140.1H528.0V139.9H529.0V141.2H530.0V141.7H531.0V139.2H532.0V141.5H533.0V138.5H534.0V139.7H535.0V141.8H536.0V141.1H537.0V140.0H538.0V141.3H539.0V138.9H540.0V138.9H541.0V138.9H542.0V138.9H543.0V139.0H544.0V139.5H545.0V139.5H544.0V139.0H543.0V140.8H542.0V140.4H541.0V142.1H540.0V140.4H539.0V141.3H538.0V140.0H537.0V141.1H536.0V141.8H535.0V139.7H534.0V138.5H533.0V142.0H532.0V139.2H531.0V141.9H530.0V141.2H529.0V139.9H528.0V140.1H527.0V139.5H526.0V140.8H525.0V138.9H524.0V138.8H523.0V140.1H522.0V141.3H521.0V139.6H520.0V141.0H519.0V139.7H518.0V140.4H517.0V140.4H516.0V141.8H515.0V141.5H514.0V140.2H513.0V141.6H512.0V139.7H511.0V141.2H510.0V141.7H509.0V138.5H508.0V141.7H507.0V139.1H506.0V142.3H505.0V127.6H504.0V116.2H503.0V115.7H502.0V116.8H501.0V116.9H500.0V117.5H499.0V118.6H498.0V118.3H497.0V119.2H496.0V118.8H495.0V117.3H494.0V116.5H493.0V115.9H492.0V118.4H491.0V115.9H490.0V116.9H489.0V115.8H488.0V119.0H487.0V119.0H486.0V117.2H485.0V115.9H484.0V118.5H483.0V116.5H482.0V117.5H481.0V115.7H480.0V117.9H479.0V116.4H478.0V118.5H477.0V116.2H476.0V118.8H475.0V117.0H474.0V119.3H473.0V118.4H472.0V118.0H471.0V115.9H470.0V115.7H469.0V115.9H468.0V118.2H467.0V115.9H466.0V115.5H465.0V115.7H464.0V118.1H463.0V116.0H462.0V125.0H461.0V127.7H460.0V130.6H459.0V127.7H458.0V130.4H457.0V130.8H456.0V129.6H455.0V128.6H454.0V127.9H453.0V128.6H452.0V128.5H451.0V128.9H450.0V130.9H449.0V131.3H448.0V130.3H447.0V131.0H446.0V131.3H445.0V130.4H444.0V127.6H443.0V127.5H442.0V131.3H441.0V130.0H440.0V128.4H439.0V130.2H438.0V129.1H437.0V128.8H436.0V128.9H435.0V130.0H434.0V130.1H433.0V130.9H432.0V128.0H431.0V129.8H430.0V130.9H429.0V131.5H428.0V131.4H427.0V130.1H426.0V130.2H425.0V131.2H424.0V128.3H423.0V128.7H422.0V129.2H421.0V132.3H420.0V131.0H419.0V129.0H418.0V130.4H417.0V130.2H416.0V130.8H415.0V128.9H414.0V129.4H413.0V129.5H412.0V131.4H411.0V130.2H410.0V132.4H409.0V129.0H408.0V131.7H407.0V129.2H406.0V130.8H405.0V132.5H404.0V131.4H403.0V130.4H402.0V130.5H401.0V129.9H400.0V130.9H399.0V130.2H398.0V130.1H397.0V130.9H396.0V130.8H395.0V128.6H394.0V130.6H393.0V130.5H392.0V129.7H391.0V130.6H390.0V131.9H389.0V132.4H388.0V132.0H387.0V132.1H386.0V132.3H385.0V131.3H384.0V130.9H383.0V129.3H382.0V131.3H381.0V129.7H380.0V131.0H379.0V130.7H378.0ZM378.0,191.8H379.0V193.2H380.0V193.3H381.0V191.7H382.0V194.5H383.0V192.3H384.0V190.8H385.0V192.3H386.0V192.4H387.0V194.0H388.0V194.2H389.0V193.9H390.0V191.3H391.0V191.6H392.0V192.3H393.0V194.4H394.0V192.2H395.0V191.7H396.0V191.5H397.0V192.2H398.0V194.2H399.0V191.8H400.0V193.4H401.0V192.7H402.0V191.8H403.0V194.2H404.0V192.1H405.0V194.1H406.0V193.1H407.0V191.4H408.0V191.5H409.0V191.5H410.0V190.9H411.0V190.7H412.0V190.7H413.0V192.1H414.0V191.4H415.0V193.5H416.0V193.6H417.0V191.9H418.0V191.6H419.0V194.2H420.0V191.5H421.0V196.1H422.0V193.9H423.0V195.7H424.0V193.8H425.0V194.6H426.0V195.7H427.0V195.8H428.0V192.7H429.0V193.9H430.0V193.9H431.0V194.0H432.0V192.9H433.0V195.9H434.0V196.1H435.0V195.2H436.0V195.7H437.0V194.6H438.0V192.7H439.0V193.0H440.0V195.9H441.0V196.3H442.0V194.1H443.0V193.6H444.0V193.6H445.0V192.6H446.0V196.4H447.0V192.9H448.0V195.6H449.0V194.7H450.0V195.8H451.0V193.5H452.0V196.0H453.0V195.1H454.0V194.8H455.0V192.6H456.0V193.7H457.0V196.1H458.0V193.9H459.0V192.8H460.0V195.3H461.0V198.0H462.0V201.5H463.0V203.7H464.0V202.1H465.0V202.7H466.0V203.5H467.0V200.6H468.0V202.7H469.0V203.1H470.0V203.4H471.0V204.2H472.0V203.0H473.0V204.0H474.0V203.2H475.0V204.3H476.0V203.4H477.0V202.8H478.0V202.2H479.0V203.9H480.0V202.5H481.0V204.5H482.0V202.8H483.0V203.5H484.0V202.8H485.0V200.5H486.0V204.5H487.0V202.0H488.0V204.3H489.0V202.5H490.0V203.7H491.0V202.3H492.0V203.3H493.0V201.1H494.0V200.9H495.0V204.4H496.0V201.1H497.0V202.2H498.0V201.5H499.0V202.7H500.0V203.5H501.0V202.5H502.0V201.8H503.0V195.7H504.0V185.0H505.0V186.8H506.0V187.1H507.0V186.8H508.0V185.1H509.0V187.2H510.0V185.0H511.0V184.9H512.0V184.8H513.0V187.4H514.0V185.8H515.0V186.7H516.0V184.7H517.0V184.7H518.0V187.4H519.0V188.0H520.0V187.7H521.0V186.2H522.0V186.3H523.0V186.2H524.0V186.5H525.0V187.6H526.0V185.2H527.0V187.7H528.0V186.5H529.0V186.2H530.0V188.3H531.0V185.5H532.0V186.4H533.0V185.4H534.0V186.9H535.0V186.4H536.0V186.7H537.0V187.9H538.0V186.9H539.0V186.9H540.0V186.5H541.0V185.7H542.0V188.3H543.0V187.1H544.0V185.4H545.0V185.4H544.0V187.1H543.0V188.3H542.0V188.2H541.0V186.5H540.0V186.9H539.0V186.9H538.0V187.9H537.0V186.7H536.0V186.6H535.0V186.9H534.0V186.4H533.0V186.4H532.0V185.5H531.0V188.3H530.0V186.2H529.0V186.5H528.0V187.7H527.0V185.2H526.0V187.6H525.0V186.5H524.0V186.2H523.0V186.3H522.0V186.4H521.0V187.7H520.0V188.0H519.0V187.4H518.0V187.2H517.0V187.2H516.0V186.7H515.0V185.8H514.0V187.4H513.0V184.8H512.0V184.9H511.0V185.0H510.0V187.2H509.0V186.6H508.0V186.8H507.0V187.1H506.0V186.8H505.0V185.0H504.0V195.7H503.0V201.8H502.0V202.5H501.0V208.0H500.0V202.7H499.0V201.5H498.0V202.2H497.0V206.4H496.0V206.4H495.0V203.6H494.0V201.1H493.0V204.6H492.0V204.6H491.0V204.6H490.0V207.7H489.0V207.7H488.0V207.7H487.0V204.5H486.0V204.7H485.0V202.8H484.0V203.5H483.0V202.8H482.0V204.5H481.0V202.5H480.0V203.9H479.0V206.8H478.0V206.8H477.0V206.8H476.0V209.1H475.0V205.6H474.0V205.7H473.0V205.7H472.0V205.7H471.0V203.4H470.0V203.1H469.0V202.7H468.0V200.6H467.0V203.5H466.0V209.9H465.0V209.9H464.0V209.9H463.0V201.5H462.0V198.0H461.0V195.3H460.0V193.1H459.0V193.9H458.0V196.1H457.0V193.7H456.0V192.6H455.0V195.6H454.0V195.6H453.0V196.0H452.0V193.5H451.0V195.8H450.0V194.7H449.0V196.6H448.0V196.1H447.0V200.1H446.0V200.1H445.0V197.9H444.0V193.6H443.0V194.1H442.0V196.3H441.0V195.9H440.0V194.9H439.0V194.9H438.0V194.6H437.0V195.7H436.0V195.2H435.0V196.1H434.0V196.6H433.0V192.9H432.0V194.0H431.0V193.9H430.0V197.9H429.0V192.7H428.0V195.8H427.0V195.7H426.0V200.2H425.0V200.2H424.0V198.6H423.0V194.7H422.0V197.2H421.0V197.2H420.0V194.2H419.0V196.8H418.0V195.7H417.0V193.6H416.0V193.5H415.0V191.4H414.0V192.1H413.0V190.7H412.0V199.3H411.0V200.3H410.0V200.3H409.0V194.7H408.0V191.4H407.0V193.3H406.0V194.1H405.0V192.1H404.0V194.2H403.0V191.8H402.0V196.7H401.0V196.7H400.0V193.6H399.0V194.2H398.0V198.3H397.0V192.3H396.0V192.3H395.0V192.2H394.0V194.4H393.0V192.3H392.0V191.6H391.0V192.7H390.0V193.9H389.0V194.2H388.0V194.0H387.0V193.6H386.0V192.5H385.0V192.4H384.0V192.3H383.0V194.5H382.0V199.4H381.0V199.4H380.0V199.4H379.0V191.8H378.0Z" fill="#ff0000"/>
<path d="M230.3,154.6V141.8M231.3,152.8V141.8M241.3,150.0V141.8M242.3,144.4V141.8M259.3,145.1V128.2M260.3,147.6V128.2M261.3,142.4V124.1M262.3,143.9V124.1M263.3,145.3V124.1M264.3,142.6V132.1M269.3,148.2V127.5M270.3,153.0V123.4M271.3,150.2V122.8M272.3,150.9V122.8M273.3,147.5V126.2M274.3,154.2V126.2M275.3,154.9V126.2M276.3,145.9V123.3M280.3,149.1V124.8M281.3,148.2V124.8M282.3,148.0V124.8M283.3,144.5V129.8M288.3,154.2V129.2M289.3,155.2V129.2M295.3,144.3V131.6M296.3,152.3V133.4M297.3,154.8V133.4M298.3,149.7V133.4M299.3,148.9V130.0M300.3,152.7V131.4M301.3,146.8V131.9M302.3,151.2V131.9M303.3,152.4V131.9M304.3,140.4V130.6M305.3,154.2V130.6M306.3,144.5V130.6M307.3,144.6V133.4M308.3,151.4V133.4M309.3,141.2V133.4M310.3,146.4V135.2M311.3,151.0V135.2M312.3,145.1V135.2M315.3,143.4V133.9M317.3,143.9V135.9M318.3,150.6V135.9M319.3,148.2V135.9M320.3,146.1V137.0M321.3,141.5V132.1M322.3,143.8V132.1M323.3,144.3V132.1M327.3,151.9V137.9M328.3,150.1V137.9M329.3,153.6V137.9M330.3,153.9V136.9M331.3,150.6V136.9M332.3,153.5V127.7M333.3,149.9V127.7M334.3,150.2V127.7M335.3,155.0V132.6M336.3,154.4V136.5M337.3,145.6V136.5M338.3,155.0V136.5M339.3,154.8V132.1M340.3,146.7V128.7M341.3,148.3V128.7M342.3,150.5V133.0M343.3,154.7V133.3M344.3,147.8V133.3M345.3,141.2V133.3M346.3,151.4V136.2M350.3,147.5V124.2M352.3,146.4V127.2M355.3,151.6V134.6M356.3,147.1V135.1M357.3,146.3V124.3M358.3,151.6V124.3M359.3,150.6V124.0M360.3,141.2V123.3M361.3,141.7V130.1M362.3,145.4V130.1M366.3,144.3V128.6M371.3,141.3V124.6M372.3,145.1V124.6M243.3,178.1V183.9M250.3,170.6V184.5M251.3,173.3V184.5M252.3,176.8V184.5M259.3,176.6V193.9M260.3,173.3V193.9M263.3,175.7V191.6M264.3,178.2V191.6M268.3,181.0V196.2M269.3,174.8V196.2M270.3,178.2V196.2M271.3,178.7V196.1M272.3,176.3V196.1M273.3,173.1V196.1M282.3,178.8V188.3M283.3,177.0V188.3M284.3,177.5V188.3M285.3,176.7V189.9M286.3,171.8V189.9M287.3,175.4V189.9M288.3,176.8V187.0M289.3,179.1V187.0M290.3,177.9V187.0M291.3,170.0V196.7M292.3,171.7V195.8M293.3,171.0V195.8M294.3,174.2V195.8M295.3,180.7V187.5M296.3,183.4V187.5M298.3,172.0V196.2M299.3,172.2V196.2M300.3,180.6V193.1M301.3,174.3V193.1M302.3,178.6V193.1M303.3,179.7V189.5M304.3,174.8V189.5M305.3,178.4V189.5M306.3,177.7V190.9M307.3,178.9V190.9M308.3,171.8V190.9M309.3,169.3V196.1M310.3,175.3V189.7M311.3,178.4V189.7M312.3,179.7V189.7M313.3,172.5V191.4M314.3,177.7V191.4M315.3,174.1V191.4M318.3,183.4V197.7M319.3,179.2V197.7M320.3,175.2V199.7M321.3,172.9V199.7M322.3,183.3V199.7M323.3,179.4V191.5M324.3,177.2V191.5M325.3,174.8V191.5M326.3,174.2V198.1M327.3,169.8V193.8M328.3,175.7V193.8M329.3,171.8V193.8M330.3,182.1V195.0M331.3,174.0V195.0M332.3,178.0V194.3M333.3,180.2V194.3M334.3,169.1V194.0M335.3,172.8V194.0M336.3,183.9V197.3M338.3,180.4V188.6M339.3,182.0V188.6M340.3,181.8V197.6M341.3,169.7V188.5M342.3,177.3V188.5M343.3,177.2V188.5M344.3,176.6V194.4M345.3,169.0V194.4M349.3,173.3V193.8M350.3,174.4V193.8M351.3,180.4V193.8M352.3,176.4V191.9M353.3,177.3V191.9M354.3,182.9V191.9M355.3,175.2V189.7M356.3,177.0V189.7M357.3,181.2V187.3M358.3,179.3V187.3M359.3,180.3V187.3M362.3,169.7V194.0M365.3,184.5V190.9M366.3,172.7V190.9M367.3,172.1V190.9M368.3,175.7V195.7M369.3,172.4V195.7M379.5,140.3V126.7M380.5,134.8V126.7M381.5,142.3V126.7M388.5,135.4V126.0M389.5,133.5V126.0M390.5,140.1V124.5M391.5,141.3V124.5M395.5,136.5V122.8M396.5,133.4V125.1M397.5,131.0V123.6M398.5,138.3V123.6M399.5,141.3V126.2M400.5,131.5V123.9M401.5,131.9V123.9M402.5,137.3V123.9M403.5,139.0V123.4M404.5,141.3V123.4M405.5,142.2V121.1M406.5,135.1V121.1M407.5,131.8V121.9M416.5,136.1V125.0M417.5,138.4V121.6M418.5,134.5V121.6M419.5,131.6V123.9M420.5,141.9V123.9M421.5,138.0V123.9M422.5,128.9V122.6M423.5,131.4V122.6M425.5,138.8V120.8M426.5,132.9V120.8M427.5,141.8V120.8M428.5,139.6V125.9M429.5,142.4V125.5M430.5,132.7V124.3M431.5,128.8V124.3M435.5,140.3V121.5M436.5,137.6V121.5M437.5,138.1V121.5M441.5,131.6V123.8M442.5,136.4V123.8M443.5,132.6V123.8M444.5,141.7V125.9M445.5,135.3V125.9M446.5,132.6V122.8M447.5,140.2V122.8M448.5,137.5V122.5M449.5,133.6V125.5M450.5,140.1V125.5M451.5,129.0V125.0M452.5,137.2V125.0M453.5,135.1V122.9M456.5,133.6V121.2M457.5,130.7V121.2M458.5,139.2V120.8M459.5,141.5V120.8M460.5,129.4V120.8M461.5,133.8V119.4M464.5,123.2V106.4M465.5,123.2V107.9M466.5,116.7V107.9M467.5,128.3V107.9M468.5,118.2V106.7M469.5,126.1V106.7M470.5,116.9V106.2M471.5,118.8V106.2M472.5,129.3V106.2M473.5,121.5V110.9M474.5,126.4V110.9M475.5,126.7V110.9M482.5,117.6V110.9M483.5,120.5V109.7M484.5,116.2V109.7M485.5,118.2V109.7M486.5,119.5V110.2M487.5,128.9V110.2M488.5,127.4V110.2M489.5,128.2V112.8M490.5,116.6V112.8M491.5,122.6V112.8M492.5,122.5V110.6M493.5,123.4V110.6M494.5,126.5V106.7M495.5,122.3V106.7M498.5,123.5V109.9M499.5,126.6V109.9M500.5,117.5V109.9M504.5,132.8V125.2M505.5,147.8V136.7M506.5,148.3V136.7M507.5,142.7V135.2M508.5,139.3V135.2M509.5,145.1V135.2M510.5,150.6V136.6M511.5,140.7V136.6M512.5,141.9V136.6M516.5,145.7V136.5M517.5,152.3V136.5M518.5,140.7V136.5M519.5,148.4V134.4M520.5,143.6V134.4M521.5,151.6V134.4M529.5,146.1V136.7M530.5,147.2V136.7M531.5,150.8V136.7M532.5,145.8V136.5M533.5,140.5V136.5M534.5,141.5V137.6M535.5,147.6V137.6M536.5,150.4V137.6M539.5,142.9V133.9M540.5,148.4V133.9M541.5,147.7V133.9M542.5,141.0V133.9M378.5,183.5V196.5M379.5,190.0V204.4M380.5,183.1V204.4M381.5,185.0V204.4M384.5,180.1V197.4M385.5,188.7V197.5M386.5,182.9V198.6M387.5,189.7V198.6M388.5,188.7V197.7M389.5,186.7V197.7M390.5,183.3V197.7M395.5,187.5V197.3M396.5,180.0V197.3M397.5,185.8V203.3M398.5,183.3V198.6M399.5,190.2V198.6M400.5,187.6V201.7M401.5,188.7V201.7M405.5,182.5V198.3M406.5,182.5V198.3M408.5,188.1V199.7M409.5,189.5V205.3M410.5,185.9V205.3M411.5,184.6V204.3M415.5,187.1V197.1M416.5,183.7V197.1M417.5,189.5V200.7M418.5,183.6V201.8M420.5,187.9V202.2M421.5,185.0V202.2M422.5,187.6V199.7M423.5,184.4V203.6M424.5,187.0V205.2M425.5,182.8V205.2M429.5,186.0V202.9M433.5,186.2V201.6M438.5,187.7V199.9M439.5,186.5V199.9M440.5,191.3V199.9M441.5,192.1V197.8M442.5,190.9V197.8M443.5,187.3V197.8M444.5,190.6V202.9M445.5,184.0V205.1M446.5,188.9V205.1M447.5,183.8V201.1M448.5,186.4V201.6M452.5,186.5V200.6M453.5,188.0V200.6M454.5,183.5V200.6M457.5,184.8V198.1M458.5,186.0V198.1M459.5,190.0V198.1M460.5,185.5V199.3M463.5,201.3V214.9M464.5,191.9V214.9M465.5,198.8V214.9M469.5,196.7V208.1M470.5,201.4V208.1M471.5,197.2V210.7M472.5,200.2V210.7M473.5,198.3V210.7M474.5,200.5V210.6M475.5,192.7V214.1M476.5,201.7V211.8M477.5,196.1V211.8M478.5,196.6V211.8M479.5,195.9V207.1M480.5,194.8V207.1M481.5,195.4V207.1M485.5,190.2V209.7M486.5,195.2V208.0M487.5,197.7V212.7M488.5,197.1V212.7M489.5,193.4V212.7M490.5,195.2V209.6M491.5,195.7V209.6M492.5,197.6V209.6M494.5,190.5V208.6M495.5,199.0V211.4M496.5,197.2V211.4M500.5,191.9V213.0M507.5,179.6V191.6M508.5,174.7V191.6M509.5,179.9V191.6M510.5,179.8V189.1M516.5,175.1V192.2M517.5,178.1V192.2M518.5,179.0V192.2M519.5,187.6V191.4M520.5,177.0V191.4M521.5,179.1V191.4M522.5,184.2V191.2M523.5,177.3V191.2M532.5,181.6V191.4M533.5,175.0V191.4M534.5,179.2V191.6M535.5,176.3V191.6M536.5,181.7V190.7M537.5,181.4V190.7M541.5,178.6V193.2" stroke="#ff0000" stroke-width="1.3" fill="none" stroke-dasharray="6 2 2.5 2"/>
<path d="M290.5,130.0V116.0M290.5,190.0V202.0" stroke="#ff0000" stroke-width="1.8" fill="none" stroke-dasharray="6 2 2.5 2"/>
<path d="M54.0,152.7H55.0V153.5H56.0V153.7H57.0V153.6H58.0V152.0H59.0V154.3H60.0V152.9H61.0V151.7H62.0V153.9H63.0V152.4H64.0V154.4H65.0V152.0H66.0V154.1H67.0V153.7H68.0V151.8H69.0V153.6H70.0V151.8H71.0V151.9H72.0V152.5H73.0V153.6H74.0V152.9H75.0V151.8H76.0V154.1H77.0V152.6H78.0V151.9H79.0V152.7H80.0V154.0H81.0V153.1H82.0V154.0H83.0V154.0H84.0V153.6H85.0V151.9H86.0V152.3H87.0V152.1H88.0V153.1H89.0V152.2H90.0V152.2H91.0V153.1H92.0V152.9H93.0V153.1H94.0V153.5H95.0V153.9H96.0V152.0H97.0V153.0H98.0V152.3H99.0V154.3H100.0V154.1H101.0V152.5H102.0V154.4H103.0V154.1H104.0V153.9H105.0V151.9H106.0V152.3H107.0V153.4H108.0V152.4H109.0V152.3H110.0V151.6H111.0V151.9H112.0V154.2H113.0V152.4H114.0V152.2H115.0V152.9H116.0V153.4H117.0V153.6H118.0V153.8H119.0V152.7H120.0V154.4H121.0V153.6H122.0V152.1H123.0V153.6H124.0V153.6H125.0V153.5H126.0V152.5H127.0V152.7H128.0V153.1H129.0V152.7H130.0V154.0H131.0V151.8H132.0V151.9H133.0V154.1H134.0V154.2H135.0V151.7H136.0V152.4H137.0V153.6H138.0V153.4H139.0V152.1H140.0V153.5H141.0V153.3H142.0V152.1H143.0V153.7H144.0V154.1H145.0V154.1H146.0V153.6H147.0V153.2H148.0V154.4H149.0V152.1H150.0V153.3H151.0V152.8H152.0V151.6H153.0V152.1H154.0V153.3H155.0V152.0H156.0V153.3H157.0V151.6H158.0V153.9H159.0V152.4H160.0V153.8H161.0V153.4H162.0V152.5H163.0V152.3H164.0V154.1H165.0V152.0H166.0V153.5H167.0V152.0H168.0V153.4H169.0V153.0H170.0V152.9H171.0V154.4H172.0V152.0H173.0V154.2H174.0V151.7H175.0V151.7H176.0V154.1H177.0V152.6H178.0V153.0H179.0V151.9H180.0V153.5H181.0V151.8H182.0V152.8H183.0V152.2H184.0V154.3H185.0V154.2H186.0V153.2H187.0V152.8H188.0V154.4H189.0V154.1H190.0V153.1H191.0V151.7H192.0V152.3H193.0V153.5H194.0V153.9H195.0V153.9H196.0V154.3H197.0V152.2H198.0V154.1H199.0V152.7H200.0V153.0H201.0V151.7H202.0V152.9H203.0V153.2H204.0V153.4H205.0V152.9H206.0V152.0H207.0V154.1H208.0V152.1H209.0V154.3H210.0V152.4H211.0V153.8H212.0V152.3H213.0V153.7H214.0V152.8H215.0V151.9H216.0V153.1H217.0V170.0H216.0V169.8H215.0V169.7H214.0V169.8H213.0V171.0H212.0V169.9H211.0V171.3H210.0V169.8H209.0V169.2H208.0V169.2H207.0V169.3H206.0V170.9H205.0V169.3H204.0V171.4H203.0V170.8H202.0V171.7H201.0V169.3H200.0V169.4H199.0V170.1H198.0V169.3H197.0V169.7H196.0V171.5H195.0V169.6H194.0V169.1H193.0V171.3H192.0V170.4H191.0V169.3H190.0V170.8H189.0V170.9H188.0V170.7H187.0V170.8H186.0V171.3H185.0V171.6H184.0V170.5H183.0V171.0H182.0V171.8H181.0V169.7H180.0V171.6H179.0V171.7H178.0V170.8H177.0V171.3H176.0V171.0H175.0V171.2H174.0V169.2H173.0V170.0H172.0V170.5H171.0V171.5H170.0V171.4H169.0V171.5H168.0V171.6H167.0V169.9H166.0V169.4H165.0V170.3H164.0V170.2H163.0V171.7H162.0V171.4H161.0V171.4H160.0V169.9H159.0V169.8H158.0V170.3H157.0V171.5H156.0V169.3H155.0V169.7H154.0V170.1H153.0V171.6H152.0V169.3H151.0V170.8H150.0V171.9H149.0V170.9H148.0V170.3H147.0V169.6H146.0V169.5H145.0V170.1H144.0V170.6H143.0V171.2H142.0V171.3H141.0V170.9H140.0V171.7H139.0V170.5H138.0V169.8H137.0V169.3H136.0V169.4H135.0V170.0H134.0V169.9H133.0V170.4H132.0V171.6H131.0V171.0H130.0V170.9H129.0V170.8H128.0V171.3H127.0V171.2H126.0V169.4H125.0V171.8H124.0V169.4H123.0V171.4H122.0V171.2H121.0V169.6H120.0V171.3H119.0V171.5H118.0V170.4H117.0V171.4H116.0V169.4H115.0V169.6H114.0V169.9H113.0V169.4H112.0V169.6H111.0V169.6H110.0V170.5H109.0V169.3H108.0V171.4H107.0V169.7H106.0V171.1H105.0V170.6H104.0V171.5H103.0V171.0H102.0V169.9H101.0V171.0H100.0V169.1H99.0V171.8H98.0V169.6H97.0V171.6H96.0V169.6H95.0V171.0H94.0V171.1H93.0V171.8H92.0V169.2H91.0V170.9H90.0V171.9H89.0V170.0H88.0V169.1H87.0V170.3H86.0V170.7H85.0V170.4H84.0V171.2H83.0V170.7H82.0V171.8H81.0V169.5H80.0V170.9H79.0V170.7H78.0V171.4H77.0V169.1H76.0V171.2H75.0V171.6H74.0V169.4H73.0V171.0H72.0V169.2H71.0V171.6H70.0V171.6H69.0V169.2H68.0V170.9H67.0V170.9H66.0V171.8H65.0V170.3H64.0V171.7H63.0V170.7H62.0V169.9H61.0V171.0H60.0V169.4H59.0V169.8H58.0V171.6H57.0V169.6H56.0V171.2H55.0V169.3H54.0Z" fill="#0000ff"/>
<path d="M221.8,152.0H222.8V151.4H223.8V153.0H224.8V151.8H225.8V150.9H226.8V151.6H227.8V151.5H228.8V150.5H229.8V151.8H230.8V152.8H231.8V152.1H232.8V151.9H233.8V150.2H234.8V152.0H235.8V152.3H236.8V151.6H237.8V151.2H238.8V151.6H239.8V150.2H240.8V149.6H241.8V149.1H242.8V148.6H243.8V150.5H244.8V150.1H245.8V148.4H246.8V147.7H247.8V147.2H248.8V146.4H249.8V147.4H250.8V146.1H251.8V144.9H252.8V145.2H253.8V146.0H254.8V144.2H255.8V145.3H256.8V143.4H257.8V147.3H258.8V151.1H259.8V151.5H260.8V153.1H261.8V153.1H262.8V152.2H263.8V150.9H264.8V151.8H265.8V150.5H266.8V152.1H267.8V151.5H268.8V153.3H269.8V151.5H270.8V150.6H271.8V152.8H272.8V153.2H273.8V152.1H274.8V152.6H275.8V153.3H276.8V152.3H277.8V151.2H278.8V152.3H279.8V153.1H280.8V150.7H281.8V152.2H282.8V152.6H283.8V150.7H284.8V152.2H285.8V150.9H286.8V150.7H287.8V153.0H288.8V153.0H289.8V150.6H290.8V151.9H291.8V150.6H292.8V151.9H293.8V151.2H294.8V151.5H295.8V151.8H296.8V153.1H297.8V151.7H298.8V153.1H299.8V151.6H300.8V151.4H301.8V152.4H302.8V150.5H303.8V150.9H304.8V150.8H305.8V152.4H306.8V152.4H307.8V151.1H308.8V151.6H309.8V151.8H310.8V151.2H311.8V151.8H312.8V152.8H313.8V151.2H314.8V152.2H315.8V153.4H316.8V153.0H317.8V151.5H318.8V152.0H319.8V150.9H320.8V153.0H321.8V151.8H322.8V153.5H323.8V153.3H324.8V151.3H325.8V152.9H326.8V152.4H327.8V151.5H328.8V151.2H329.8V150.5H330.8V150.5H331.8V152.5H332.8V151.8H333.8V151.6H334.8V151.2H335.8V153.0H336.8V151.2H337.8V152.2H338.8V151.1H339.8V151.5H340.8V152.8H341.8V153.1H342.8V151.1H343.8V151.1H344.8V152.5H345.8V153.0H346.8V150.9H347.8V152.6H348.8V150.6H349.8V150.9H350.8V153.4H351.8V150.7H352.8V151.7H353.8V151.4H354.8V152.3H355.8V152.1H356.8V152.4H357.8V152.2H358.8V151.2H359.8V151.8H360.8V150.9H361.8V150.9H362.8V150.7H363.8V153.4H364.8V152.8H365.8V151.0H366.8V152.0H367.8V150.5H368.8V152.5H369.8V151.4H370.8V153.1H371.8V152.5H372.8V171.4H371.8V170.9H370.8V171.0H369.8V173.1H368.8V171.1H367.8V171.9H366.8V173.1H365.8V171.9H364.8V171.8H363.8V171.7H362.8V170.6H361.8V171.9H360.8V173.1H359.8V172.1H358.8V173.4H357.8V171.4H356.8V171.4H355.8V172.5H354.8V172.9H353.8V171.0H352.8V172.9H351.8V172.7H350.8V171.5H349.8V171.2H348.8V171.2H347.8V171.4H346.8V171.7H345.8V172.6H344.8V171.1H343.8V171.7H342.8V172.0H341.8V173.1H340.8V172.3H339.8V171.8H338.8V172.1H337.8V173.1H336.8V171.8H335.8V173.1H334.8V172.2H333.8V170.6H332.8V173.1H331.8V172.5H330.8V171.5H329.8V171.6H328.8V173.4H327.8V173.4H326.8V170.5H325.8V171.1H324.8V171.4H323.8V172.9H322.8V172.8H321.8V173.2H320.8V172.5H319.8V171.5H318.8V170.7H317.8V171.4H316.8V172.5H315.8V170.5H314.8V170.9H313.8V172.1H312.8V172.0H311.8V172.8H310.8V172.4H309.8V172.6H308.8V172.8H307.8V172.6H306.8V170.8H305.8V171.8H304.8V172.1H303.8V171.4H302.8V173.3H301.8V171.9H300.8V172.5H299.8V171.2H298.8V171.0H297.8V171.7H296.8V173.4H295.8V172.5H294.8V173.3H293.8V172.3H292.8V171.3H291.8V173.4H290.8V172.2H289.8V171.8H288.8V172.6H287.8V171.7H286.8V172.4H285.8V173.4H284.8V172.1H283.8V171.9H282.8V173.2H281.8V173.1H280.8V171.2H279.8V170.8H278.8V171.3H277.8V171.5H276.8V170.7H275.8V173.5H274.8V172.7H273.8V170.9H272.8V171.3H271.8V170.9H270.8V171.4H269.8V172.7H268.8V171.6H267.8V173.0H266.8V171.1H265.8V172.0H264.8V171.1H263.8V170.8H262.8V170.6H261.8V172.8H260.8V171.1H259.8V171.7H258.8V174.0H257.8V176.6H256.8V175.5H255.8V175.5H254.8V175.8H253.8V176.1H252.8V176.7H251.8V176.5H250.8V174.7H249.8V174.4H248.8V174.1H247.8V176.1H246.8V174.0H245.8V176.3H244.8V175.9H243.8V175.9H242.8V174.2H241.8V174.5H240.8V173.0H239.8V173.6H238.8V174.0H237.8V174.3H236.8V174.5H235.8V174.4H234.8V174.5H233.8V173.7H232.8V174.2H231.8V174.5H230.8V174.4H229.8V173.5H228.8V171.5H227.8V171.5H226.8V172.4H225.8V171.2H224.8V172.4H223.8V173.4H222.8V173.3H221.8Z" fill="#0000ff"/>
<path d="M378.0,141.1H379.0V140.0H380.0V141.7H381.0V142.4H382.0V140.9H383.0V141.2H384.0V140.9H385.0V141.7H386.0V140.4H387.0V140.1H388.0V141.4H389.0V141.2H390.0V140.8H391.0V140.8H392.0V139.9H393.0V139.9H394.0V139.4H395.0V139.2H396.0V142.3H397.0V139.7H398.0V141.0H399.0V141.3H400.0V140.2H401.0V142.0H402.0V141.5H403.0V140.4H404.0V140.2H405.0V141.7H406.0V142.7H407.0V142.6H408.0V142.5H409.0V140.4H410.0V140.4H411.0V141.7H412.0V139.7H413.0V140.3H414.0V139.5H415.0V139.9H416.0V142.0H417.0V139.2H418.0V140.8H419.0V140.9H420.0V145.5H421.0V153.3H422.0V152.4H423.0V154.3H424.0V153.4H425.0V152.6H426.0V151.7H427.0V154.0H428.0V152.1H429.0V151.4H430.0V151.4H431.0V151.6H432.0V154.6H433.0V153.2H434.0V153.4H435.0V152.7H436.0V153.4H437.0V151.9H438.0V153.2H439.0V152.1H440.0V152.9H441.0V152.9H442.0V152.9H443.0V152.1H444.0V152.3H445.0V151.3H446.0V151.9H447.0V152.9H448.0V151.0H449.0V151.9H450.0V151.4H451.0V154.1H452.0V153.6H453.0V151.0H454.0V152.1H455.0V151.9H456.0V151.4H457.0V151.2H458.0V153.7H459.0V152.4H460.0V152.9H461.0V152.9H462.0V154.3H463.0V152.6H464.0V152.6H465.0V152.1H466.0V153.2H467.0V152.7H468.0V152.7H469.0V154.2H470.0V152.6H471.0V150.9H472.0V150.8H473.0V152.5H474.0V153.5H475.0V152.8H476.0V154.2H477.0V153.6H478.0V152.5H479.0V152.3H480.0V153.8H481.0V151.3H482.0V152.8H483.0V152.8H484.0V154.3H485.0V153.2H486.0V152.2H487.0V151.1H488.0V153.3H489.0V152.3H490.0V152.9H491.0V152.2H492.0V153.8H493.0V153.5H494.0V151.8H495.0V152.5H496.0V150.7H497.0V153.1H498.0V154.0H499.0V152.8H500.0V154.1H501.0V153.8H502.0V151.3H503.0V150.6H504.0V153.5H505.0V152.2H506.0V150.7H507.0V153.3H508.0V151.4H509.0V152.5H510.0V152.7H511.0V152.1H512.0V151.6H513.0V150.9H514.0V151.4H515.0V151.6H516.0V153.9H517.0V153.4H518.0V151.1H519.0V153.1H520.0V153.4H521.0V153.7H522.0V151.4H523.0V152.0H524.0V152.1H525.0V151.9H526.0V151.8H527.0V150.9H528.0V152.1H529.0V152.3H530.0V151.4H531.0V151.4H532.0V151.3H533.0V151.3H534.0V152.8H535.0V152.4H536.0V150.9H537.0V152.1H538.0V152.1H539.0V151.7H540.0V151.3H541.0V152.8H542.0V150.2H543.0V152.1H544.0V152.0H545.0V172.7H544.0V170.7H543.0V171.6H542.0V169.5H541.0V172.0H540.0V172.1H539.0V170.9H538.0V172.3H537.0V172.7H536.0V171.6H535.0V170.0H534.0V171.2H533.0V170.9H532.0V169.9H531.0V169.5H530.0V170.4H529.0V171.4H528.0V170.5H527.0V172.3H526.0V172.6H525.0V172.4H524.0V172.1H523.0V170.1H522.0V169.5H521.0V171.4H520.0V171.2H519.0V171.8H518.0V172.5H517.0V171.3H516.0V172.2H515.0V172.9H514.0V173.0H513.0V170.1H512.0V170.5H511.0V171.0H510.0V169.9H509.0V171.5H508.0V170.3H507.0V170.8H506.0V170.8H505.0V170.2H504.0V171.5H503.0V171.5H502.0V172.1H501.0V169.9H500.0V171.6H499.0V170.3H498.0V171.4H497.0V170.8H496.0V170.4H495.0V169.6H494.0V172.0H493.0V169.7H492.0V172.3H491.0V170.0H490.0V170.1H489.0V171.3H488.0V170.9H487.0V170.7H486.0V170.9H485.0V170.2H484.0V172.2H483.0V171.4H482.0V172.6H481.0V173.0H480.0V170.9H479.0V170.4H478.0V172.5H477.0V172.4H476.0V171.3H475.0V171.5H474.0V172.3H473.0V171.3H472.0V171.2H471.0V171.0H470.0V173.4H469.0V171.5H468.0V172.2H467.0V172.2H466.0V170.5H465.0V170.7H464.0V173.5H463.0V171.6H462.0V173.1H461.0V173.3H460.0V172.5H459.0V172.2H458.0V172.0H457.0V171.0H456.0V171.6H455.0V172.0H454.0V171.8H453.0V170.3H452.0V170.1H451.0V173.5H450.0V171.6H449.0V172.7H448.0V171.5H447.0V170.8H446.0V170.2H445.0V172.9H444.0V170.3H443.0V173.6H442.0V172.6H441.0V170.1H440.0V171.6H439.0V170.6H438.0V170.3H437.0V173.6H436.0V170.6H435.0V172.6H434.0V172.8H433.0V173.1H432.0V170.1H431.0V171.2H430.0V170.5H429.0V173.5H428.0V173.2H427.0V171.4H426.0V170.3H425.0V172.8H424.0V172.5H423.0V172.2H422.0V171.3H421.0V172.5H420.0V176.7H419.0V176.5H418.0V174.9H417.0V173.7H416.0V175.6H415.0V176.4H414.0V174.4H413.0V173.3H412.0V174.1H411.0V174.0H410.0V175.2H409.0V176.2H408.0V174.4H407.0V173.7H406.0V174.6H405.0V173.7H404.0V173.7H403.0V174.6H402.0V173.8H401.0V174.0H400.0V175.2H399.0V173.4H398.0V175.7H397.0V174.4H396.0V175.9H395.0V173.6H394.0V173.5H393.0V173.3H392.0V175.6H391.0V174.3H390.0V174.6H389.0V175.4H388.0V175.5H387.0V173.8H386.0V175.7H385.0V176.1H384.0V176.4H383.0V175.6H382.0V176.8H381.0V173.6H380.0V174.8H379.0V174.9H378.0Z" fill="#0000ff"/>
<path d="M221.8,146.0H222.8V146.0H223.8V146.0H224.8V153.3H225.8V152.4H226.8V153.1H227.8V153.0H228.8V152.0H229.8V153.3H230.8V154.3H231.8V153.6H232.8V153.4H233.8V151.7H234.8V153.5H235.8V153.8H236.8V153.1H237.8V152.7H238.8V153.1H239.8V151.7H240.8V151.1H241.8V150.6H242.8V150.1H243.8V152.0H244.8V151.6H245.8V149.9H246.8V149.2H247.8V148.7H248.8V147.9H249.8V148.9H250.8V147.6H251.8V146.4H252.8V146.7H253.8V147.5H254.8V145.7H255.8V146.8H256.8V144.9H257.8V148.8H258.8V152.6H259.8V153.0H260.8V154.6H261.8V154.6H262.8V153.7H263.8V152.4H264.8V153.3H265.8V152.0H266.8V150.6H267.8V150.6H268.8V154.8H269.8V153.0H270.8V152.1H271.8V154.3H272.8V147.4H273.8V153.6H274.8V154.1H275.8V154.8H276.8V153.8H277.8V141.8H278.8V141.8H279.8V141.8H280.8V152.2H281.8V153.7H282.8V154.1H283.8V152.2H284.8V153.7H285.8V152.4H286.8V152.2H287.8V140.4H288.8V154.5H289.8V152.1H290.8V153.4H291.8V152.1H292.8V153.4H293.8V152.7H294.8V150.9H295.8V150.9H296.8V154.6H297.8V153.2H298.8V154.6H299.8V153.1H300.8V152.9H301.8V153.9H302.8V145.9H303.8V145.9H304.8V145.9H305.8V145.8H306.8V145.8H307.8V145.8H308.8V153.1H309.8V153.3H310.8V152.7H311.8V153.3H312.8V154.3H313.8V152.7H314.8V153.7H315.8V143.1H316.8V143.1H317.8V143.1H318.8V149.9H319.8V149.9H320.8V142.0H321.8V142.0H322.8V152.2H323.8V152.2H324.8V152.2H325.8V154.4H326.8V153.9H327.8V153.0H328.8V152.7H329.8V152.0H330.8V152.0H331.8V154.0H332.8V153.3H333.8V153.1H334.8V152.7H335.8V154.5H336.8V152.7H337.8V153.7H338.8V152.6H339.8V140.3H340.8V140.3H341.8V154.6H342.8V144.4H343.8V144.4H344.8V154.0H345.8V154.5H346.8V152.4H347.8V153.5H348.8V152.1H349.8V152.4H350.8V154.9H351.8V152.2H352.8V141.6H353.8V141.6H354.8V145.9H355.8V145.9H356.8V153.9H357.8V153.7H358.8V152.7H359.8V146.0H360.8V146.0H361.8V146.0H362.8V152.2H363.8V146.8H364.8V146.8H365.8V146.8H366.8V153.5H367.8V152.0H368.8V144.0H369.8V144.0H370.8V154.6H371.8V154.0H372.8V154.0H371.8V154.6H370.8V152.9H369.8V154.0H368.8V152.0H367.8V153.5H366.8V152.5H365.8V154.3H364.8V154.9H363.8V152.2H362.8V152.4H361.8V152.4H360.8V153.3H359.8V152.7H358.8V153.7H357.8V153.9H356.8V153.6H355.8V153.8H354.8V152.9H353.8V153.2H352.8V152.2H351.8V154.9H350.8V152.4H349.8V152.1H348.8V154.1H347.8V152.4H346.8V154.5H345.8V154.0H344.8V152.6H343.8V152.6H342.8V154.6H341.8V154.3H340.8V153.0H339.8V152.6H338.8V153.7H337.8V152.7H336.8V154.5H335.8V152.7H334.8V153.1H333.8V153.3H332.8V154.0H331.8V152.0H330.8V152.0H329.8V152.7H328.8V153.0H327.8V153.9H326.8V154.4H325.8V152.8H324.8V154.8H323.8V155.0H322.8V153.3H321.8V154.5H320.8V152.4H319.8V153.5H318.8V153.0H317.8V154.5H316.8V154.9H315.8V153.7H314.8V152.7H313.8V154.3H312.8V153.3H311.8V152.7H310.8V153.3H309.8V153.1H308.8V152.6H307.8V153.9H306.8V153.9H305.8V152.3H304.8V152.4H303.8V152.0H302.8V153.9H301.8V152.9H300.8V153.1H299.8V154.6H298.8V153.2H297.8V154.6H296.8V153.3H295.8V153.0H294.8V152.7H293.8V153.4H292.8V152.1H291.8V153.4H290.8V152.1H289.8V154.5H288.8V154.5H287.8V152.2H286.8V152.4H285.8V153.7H284.8V152.2H283.8V154.1H282.8V153.7H281.8V152.2H280.8V154.6H279.8V153.8H278.8V152.7H277.8V153.8H276.8V154.8H275.8V154.1H274.8V153.6H273.8V154.7H272.8V154.3H271.8V152.1H270.8V153.0H269.8V154.8H268.8V153.0H267.8V153.6H266.8V152.0H265.8V153.3H264.8V152.4H263.8V153.7H262.8V154.6H261.8V154.6H260.8V153.0H259.8V152.6H258.8V148.8H257.8V144.9H256.8V146.8H255.8V145.7H254.8V147.5H253.8V146.7H252.8V146.4H251.8V147.6H250.8V148.9H249.8V147.9H248.8V148.7H247.8V149.2H246.8V149.9H245.8V151.6H244.8V152.0H243.8V150.1H242.8V150.6H241.8V151.1H240.8V151.7H239.8V153.1H238.8V152.7H237.8V153.1H236.8V153.8H235.8V153.5H234.8V151.7H233.8V153.4H232.8V153.6H231.8V154.3H230.8V153.3H229.8V152.0H228.8V153.0H227.8V153.1H226.8V152.4H225.8V153.3H224.8V154.5H223.8V152.9H222.8V153.5H221.8ZM221.8,171.8H222.8V171.9H223.8V170.9H224.8V169.7H225.8V170.9H226.8V170.0H227.8V170.0H228.8V172.0H229.8V172.9H230.8V173.0H231.8V172.7H232.8V172.2H233.8V173.0H234.8V172.9H235.8V173.0H236.8V172.8H237.8V172.5H238.8V172.1H239.8V171.5H240.8V173.0H241.8V172.7H242.8V174.4H243.8V174.4H244.8V174.8H245.8V172.5H246.8V174.6H247.8V172.6H248.8V172.9H249.8V173.2H250.8V175.0H251.8V175.2H252.8V174.6H253.8V174.3H254.8V174.0H255.8V174.0H256.8V175.1H257.8V172.5H258.8V170.2H259.8V169.6H260.8V171.3H261.8V169.1H262.8V169.3H263.8V169.6H264.8V170.5H265.8V169.6H266.8V171.5H267.8V170.1H268.8V171.2H269.8V169.9H270.8V169.4H271.8V169.8H272.8V169.4H273.8V171.2H274.8V172.0H275.8V169.2H276.8V170.0H277.8V169.8H278.8V169.3H279.8V169.7H280.8V171.6H281.8V171.7H282.8V170.4H283.8V170.6H284.8V171.9H285.8V170.9H286.8V170.2H287.8V171.1H288.8V170.3H289.8V170.7H290.8V171.9H291.8V169.8H292.8V170.8H293.8V171.8H294.8V171.0H295.8V171.9H296.8V170.2H297.8V169.5H298.8V169.7H299.8V171.0H300.8V170.4H301.8V171.8H302.8V169.9H303.8V170.6H304.8V170.3H305.8V169.3H306.8V171.1H307.8V171.3H308.8V171.1H309.8V170.9H310.8V171.3H311.8V170.5H312.8V170.6H313.8V169.4H314.8V169.0H315.8V171.0H316.8V169.9H317.8V169.2H318.8V170.0H319.8V171.0H320.8V171.7H321.8V171.3H322.8V171.4H323.8V169.9H324.8V169.6H325.8V169.0H326.8V171.9H327.8V171.9H328.8V170.1H329.8V170.0H330.8V171.0H331.8V171.6H332.8V169.1H333.8V170.7H334.8V171.6H335.8V170.3H336.8V171.6H337.8V170.6H338.8V170.3H339.8V170.8H340.8V171.6H341.8V170.5H342.8V170.2H343.8V169.6H344.8V171.1H345.8V170.2H346.8V169.9H347.8V169.7H348.8V169.7H349.8V170.0H350.8V171.2H351.8V171.4H352.8V169.5H353.8V171.4H354.8V171.0H355.8V169.9H356.8V169.9H357.8V171.9H358.8V170.6H359.8V171.6H360.8V170.4H361.8V169.1H362.8V170.2H363.8V170.3H364.8V170.4H365.8V171.6H366.8V170.4H367.8V169.6H368.8V171.6H369.8V169.5H370.8V169.4H371.8V169.9H372.8V176.2H371.8V183.5H370.8V183.5H369.8V183.5H368.8V169.6H367.8V170.4H366.8V171.6H365.8V170.4H364.8V170.3H363.8V170.2H362.8V169.1H361.8V170.4H360.8V177.2H359.8V170.6H358.8V171.9H357.8V169.9H356.8V169.9H355.8V171.0H354.8V171.4H353.8V169.5H352.8V171.4H351.8V181.2H350.8V181.2H349.8V181.2H348.8V169.7H347.8V169.9H346.8V170.2H345.8V171.1H344.8V169.6H343.8V174.5H342.8V174.5H341.8V174.5H340.8V173.3H339.8V173.3H338.8V173.3H337.8V171.6H336.8V170.3H335.8V171.6H334.8V170.7H333.8V169.1H332.8V171.6H331.8V171.0H330.8V175.0H329.8V175.0H328.8V175.3H327.8V175.3H326.8V175.3H325.8V169.6H324.8V169.9H323.8V172.3H322.8V172.3H321.8V171.7H320.8V171.0H319.8V170.0H318.8V169.2H317.8V169.9H316.8V179.4H315.8V169.0H314.8V169.4H313.8V170.6H312.8V170.6H311.8V171.3H310.8V170.9H309.8V171.1H308.8V171.3H307.8V171.1H306.8V178.5H305.8V178.5H304.8V170.6H303.8V169.9H302.8V171.8H301.8V170.4H300.8V171.0H299.8V169.7H298.8V169.5H297.8V171.7H296.8V171.9H295.8V171.0H294.8V171.8H293.8V170.8H292.8V169.8H291.8V171.9H290.8V179.0H289.8V179.0H288.8V171.1H287.8V170.2H286.8V170.9H285.8V171.9H284.8V178.6H283.8V178.6H282.8V178.6H281.8V171.6H280.8V169.7H279.8V169.3H278.8V169.8H277.8V170.0H276.8V169.2H275.8V172.0H274.8V171.2H273.8V169.4H272.8V169.8H271.8V169.4H270.8V169.9H269.8V171.2H268.8V170.1H267.8V171.5H266.8V169.6H265.8V183.8H264.8V169.6H263.8V169.3H262.8V169.1H261.8V173.8H260.8V173.8H259.8V170.2H258.8V172.5H257.8V175.1H256.8V174.0H255.8V174.0H254.8V174.3H253.8V174.6H252.8V175.2H251.8V175.0H250.8V173.2H249.8V172.9H248.8V172.7H247.8V174.6H246.8V172.5H245.8V174.8H244.8V174.4H243.8V174.4H242.8V172.7H241.8V173.0H240.8V171.5H239.8V172.1H238.8V172.5H237.8V172.8H236.8V173.0H235.8V172.9H234.8V173.0H233.8V172.2H232.8V172.7H231.8V173.0H230.8V172.9H229.8V172.0H228.8V170.0H227.8V170.0H226.8V170.9H225.8V169.7H224.8V170.9H223.8V171.9H222.8V171.8H221.8ZM378.0,141.2H379.0V141.2H380.0V139.9H381.0V137.2H382.0V137.2H383.0V141.2H384.0V142.4H385.0V143.2H386.0V141.9H387.0V141.6H388.0V142.9H389.0V142.7H390.0V142.3H391.0V142.3H392.0V141.4H393.0V141.4H394.0V140.9H395.0V140.7H396.0V143.8H397.0V141.2H398.0V142.5H399.0V141.4H400.0V141.4H401.0V138.7H402.0V143.0H403.0V141.9H404.0V141.7H405.0V143.2H406.0V139.5H407.0V139.5H408.0V144.0H409.0V141.9H410.0V141.9H411.0V143.2H412.0V141.2H413.0V141.8H414.0V141.0H415.0V141.4H416.0V143.5H417.0V140.7H418.0V138.2H419.0V140.9H420.0V140.9H421.0V154.8H422.0V153.9H423.0V155.8H424.0V154.9H425.0V154.1H426.0V153.2H427.0V155.5H428.0V153.6H429.0V152.9H430.0V152.9H431.0V153.1H432.0V156.1H433.0V154.7H434.0V154.9H435.0V154.2H436.0V154.9H437.0V153.4H438.0V154.7H439.0V153.6H440.0V154.4H441.0V154.4H442.0V154.4H443.0V153.6H444.0V153.8H445.0V152.8H446.0V153.4H447.0V154.4H448.0V152.5H449.0V153.4H450.0V152.9H451.0V155.6H452.0V155.1H453.0V152.5H454.0V153.6H455.0V147.6H456.0V152.9H457.0V152.7H458.0V155.2H459.0V153.9H460.0V154.4H461.0V154.4H462.0V155.8H463.0V154.1H464.0V154.1H465.0V153.6H466.0V151.1H467.0V154.2H468.0V154.2H469.0V155.7H470.0V154.1H471.0V152.4H472.0V152.3H473.0V154.0H474.0V155.0H475.0V154.3H476.0V149.6H477.0V149.6H478.0V154.0H479.0V153.8H480.0V155.3H481.0V152.8H482.0V154.3H483.0V154.3H484.0V155.8H485.0V146.8H486.0V153.7H487.0V152.6H488.0V154.8H489.0V153.8H490.0V147.7H491.0V153.7H492.0V155.3H493.0V155.0H494.0V153.3H495.0V154.0H496.0V152.2H497.0V154.6H498.0V155.5H499.0V154.3H500.0V155.6H501.0V155.3H502.0V149.4H503.0V149.4H504.0V155.0H505.0V153.7H506.0V152.2H507.0V154.8H508.0V152.9H509.0V154.0H510.0V154.2H511.0V153.6H512.0V153.1H513.0V152.2H514.0V152.2H515.0V153.1H516.0V155.4H517.0V154.9H518.0V152.6H519.0V154.6H520.0V154.9H521.0V155.2H522.0V152.9H523.0V153.5H524.0V153.6H525.0V153.4H526.0V153.3H527.0V152.4H528.0V153.6H529.0V153.8H530.0V152.9H531.0V152.9H532.0V152.8H533.0V152.8H534.0V152.2H535.0V152.2H536.0V152.4H537.0V153.6H538.0V153.6H539.0V153.2H540.0V152.8H541.0V154.3H542.0V151.7H543.0V153.6H544.0V153.5H545.0V153.5H544.0V153.6H543.0V151.7H542.0V154.3H541.0V152.8H540.0V153.2H539.0V153.6H538.0V153.6H537.0V152.4H536.0V153.9H535.0V154.3H534.0V152.8H533.0V152.8H532.0V152.9H531.0V152.9H530.0V153.8H529.0V153.6H528.0V152.4H527.0V153.3H526.0V153.4H525.0V153.6H524.0V153.5H523.0V152.9H522.0V155.2H521.0V154.9H520.0V154.6H519.0V152.6H518.0V154.9H517.0V155.4H516.0V153.1H515.0V152.9H514.0V152.4H513.0V153.1H512.0V153.6H511.0V154.2H510.0V154.0H509.0V152.9H508.0V154.8H507.0V152.2H506.0V153.7H505.0V155.0H504.0V152.1H503.0V152.8H502.0V155.3H501.0V155.6H500.0V154.3H499.0V155.5H498.0V154.6H497.0V152.2H496.0V154.0H495.0V153.3H494.0V155.0H493.0V155.3H492.0V153.7H491.0V154.4H490.0V153.8H489.0V154.8H488.0V152.6H487.0V153.7H486.0V154.7H485.0V155.8H484.0V154.3H483.0V154.3H482.0V152.8H481.0V155.3H480.0V153.8H479.0V154.0H478.0V155.1H477.0V155.7H476.0V154.3H475.0V155.0H474.0V154.0H473.0V152.3H472.0V152.4H471.0V154.1H470.0V155.7H469.0V154.2H468.0V154.2H467.0V154.7H466.0V153.6H465.0V154.1H464.0V154.1H463.0V155.8H462.0V154.4H461.0V154.4H460.0V153.9H459.0V155.2H458.0V152.7H457.0V152.9H456.0V153.4H455.0V153.6H454.0V152.5H453.0V155.1H452.0V155.6H451.0V152.9H450.0V153.4H449.0V152.5H448.0V154.4H447.0V153.4H446.0V152.8H445.0V153.8H444.0V153.6H443.0V154.4H442.0V154.4H441.0V154.4H440.0V153.6H439.0V154.7H438.0V153.4H437.0V154.9H436.0V154.2H435.0V154.9H434.0V154.7H433.0V156.1H432.0V153.1H431.0V152.9H430.0V152.9H429.0V153.6H428.0V155.5H427.0V153.2H426.0V154.1H425.0V154.9H424.0V155.8H423.0V153.9H422.0V154.8H421.0V147.0H420.0V142.4H419.0V142.3H418.0V140.7H417.0V143.5H416.0V141.4H415.0V141.0H414.0V141.8H413.0V141.2H412.0V143.2H411.0V141.9H410.0V141.9H409.0V144.0H408.0V144.1H407.0V144.2H406.0V143.2H405.0V141.7H404.0V141.9H403.0V143.0H402.0V143.5H401.0V141.7H400.0V142.8H399.0V142.5H398.0V141.2H397.0V143.8H396.0V140.7H395.0V140.9H394.0V141.4H393.0V141.4H392.0V142.3H391.0V142.3H390.0V142.7H389.0V142.9H388.0V141.6H387.0V141.9H386.0V143.2H385.0V142.4H384.0V142.7H383.0V142.4H382.0V143.9H381.0V143.2H380.0V141.5H379.0V142.6H378.0ZM378.0,173.4H379.0V173.3H380.0V172.1H381.0V175.3H382.0V174.1H383.0V174.9H384.0V174.6H385.0V174.2H386.0V172.3H387.0V174.0H388.0V173.9H389.0V173.1H390.0V172.8H391.0V174.1H392.0V171.8H393.0V172.0H394.0V172.1H395.0V174.4H396.0V172.9H397.0V174.2H398.0V171.9H399.0V173.7H400.0V172.5H401.0V172.3H402.0V173.1H403.0V172.2H404.0V172.2H405.0V173.1H406.0V172.2H407.0V172.9H408.0V174.7H409.0V173.7H410.0V172.5H411.0V172.6H412.0V171.8H413.0V172.9H414.0V174.9H415.0V174.1H416.0V172.2H417.0V173.4H418.0V175.0H419.0V175.2H420.0V171.0H421.0V169.8H422.0V170.7H423.0V171.0H424.0V171.3H425.0V168.8H426.0V169.9H427.0V171.7H428.0V172.0H429.0V169.0H430.0V169.7H431.0V168.6H432.0V171.6H433.0V171.3H434.0V171.1H435.0V169.1H436.0V172.1H437.0V168.8H438.0V169.1H439.0V170.1H440.0V168.6H441.0V171.1H442.0V172.1H443.0V168.8H444.0V171.4H445.0V168.7H446.0V169.3H447.0V170.0H448.0V171.2H449.0V170.1H450.0V172.0H451.0V168.6H452.0V168.8H453.0V170.3H454.0V170.5H455.0V170.1H456.0V169.5H457.0V170.5H458.0V170.7H459.0V171.0H460.0V171.8H461.0V171.6H462.0V170.1H463.0V172.0H464.0V169.2H465.0V169.0H466.0V170.7H467.0V170.7H468.0V170.0H469.0V171.9H470.0V169.5H471.0V169.7H472.0V169.8H473.0V170.8H474.0V170.0H475.0V169.8H476.0V170.9H477.0V171.0H478.0V168.9H479.0V169.4H480.0V171.5H481.0V171.1H482.0V169.9H483.0V170.7H484.0V168.7H485.0V169.4H486.0V169.2H487.0V169.4H488.0V169.8H489.0V168.6H490.0V168.5H491.0V170.8H492.0V168.2H493.0V170.5H494.0V168.1H495.0V168.9H496.0V169.3H497.0V169.9H498.0V168.8H499.0V170.1H500.0V168.4H501.0V170.6H502.0V170.0H503.0V170.0H504.0V168.7H505.0V169.3H506.0V169.3H507.0V168.8H508.0V170.0H509.0V168.4H510.0V169.5H511.0V169.0H512.0V168.6H513.0V171.5H514.0V171.4H515.0V170.7H516.0V169.8H517.0V171.0H518.0V170.3H519.0V169.7H520.0V169.9H521.0V168.0H522.0V168.6H523.0V170.6H524.0V170.9H525.0V171.1H526.0V170.8H527.0V169.0H528.0V169.9H529.0V168.9H530.0V168.0H531.0V168.4H532.0V169.4H533.0V169.7H534.0V168.5H535.0V170.1H536.0V171.2H537.0V170.8H538.0V169.4H539.0V170.6H540.0V170.5H541.0V168.0H542.0V170.1H543.0V169.2H544.0V171.2H545.0V171.2H544.0V169.2H543.0V170.1H542.0V168.0H541.0V170.5H540.0V176.6H539.0V176.6H538.0V170.8H537.0V171.2H536.0V170.1H535.0V168.5H534.0V176.0H533.0V176.0H532.0V168.4H531.0V168.0H530.0V168.9H529.0V169.9H528.0V169.0H527.0V170.8H526.0V174.6H525.0V174.6H524.0V174.5H523.0V174.5H522.0V168.0H521.0V169.9H520.0V169.7H519.0V170.3H518.0V171.0H517.0V169.8H516.0V170.7H515.0V171.4H514.0V171.5H513.0V168.6H512.0V169.0H511.0V169.5H510.0V168.4H509.0V170.0H508.0V168.8H507.0V169.3H506.0V169.3H505.0V168.7H504.0V170.0H503.0V170.0H502.0V170.6H501.0V173.6H500.0V173.6H499.0V168.8H498.0V169.9H497.0V169.3H496.0V168.9H495.0V168.1H494.0V170.5H493.0V168.2H492.0V170.8H491.0V168.5H490.0V168.6H489.0V169.8H488.0V169.4H487.0V175.2H486.0V171.9H485.0V168.7H484.0V170.7H483.0V169.9H482.0V171.1H481.0V171.5H480.0V169.4H479.0V168.9H478.0V171.0H477.0V170.9H476.0V169.8H475.0V170.0H474.0V170.8H473.0V169.8H472.0V169.7H471.0V172.4H470.0V171.9H469.0V170.0H468.0V170.7H467.0V170.7H466.0V169.0H465.0V169.2H464.0V172.0H463.0V170.1H462.0V172.5H461.0V172.5H460.0V173.0H459.0V173.0H458.0V172.2H457.0V169.5H456.0V170.1H455.0V170.5H454.0V171.4H453.0V171.4H452.0V168.6H451.0V172.0H450.0V170.1H449.0V171.2H448.0V170.0H447.0V169.3H446.0V168.7H445.0V171.4H444.0V168.8H443.0V172.1H442.0V171.1H441.0V168.6H440.0V171.9H439.0V171.9H438.0V168.8H437.0V172.1H436.0V169.1H435.0V171.1H434.0V171.3H433.0V171.6H432.0V168.6H431.0V169.7H430.0V169.0H429.0V172.0H428.0V171.7H427.0V169.9H426.0V168.8H425.0V171.3H424.0V171.0H423.0V170.7H422.0V169.8H421.0V171.0H420.0V176.7H419.0V176.7H418.0V173.4H417.0V172.2H416.0V174.1H415.0V174.9H414.0V172.9H413.0V171.8H412.0V172.6H411.0V172.5H410.0V173.7H409.0V174.7H408.0V172.9H407.0V172.2H406.0V173.1H405.0V172.2H404.0V172.2H403.0V173.1H402.0V172.3H401.0V172.5H400.0V173.7H399.0V175.8H398.0V174.2H397.0V172.9H396.0V174.4H395.0V173.8H394.0V173.8H393.0V172.4H392.0V176.4H391.0V172.8H390.0V173.1H389.0V173.9H388.0V174.0H387.0V172.3H386.0V174.2H385.0V174.6H384.0V174.9H383.0V174.1H382.0V175.3H381.0V172.1H380.0V173.3H379.0V173.4H378.0Z" fill="#0000ff"/>
<path d="M222.3,154.5V142.0M223.3,164.5V142.0M224.3,162.6V142.0M267.3,160.2V146.6M268.3,159.6V146.6M273.3,156.8V143.4M278.3,160.0V137.8M279.3,155.0V137.8M280.3,166.1V137.8M288.3,155.7V136.4M295.3,158.6V146.9M296.3,156.0V146.9M303.3,161.3V141.9M304.3,162.0V141.9M305.3,159.0V141.9M306.3,156.8V141.8M307.3,164.7V141.8M308.3,162.7V141.8M312.3,153.6V149.5M316.3,155.8V139.1M317.3,161.9V139.1M318.3,162.9V139.1M319.3,161.3V145.9M320.3,155.4V145.9M321.3,159.9V138.0M322.3,162.4V138.0M323.3,155.9V148.2M324.3,157.8V148.2M325.3,157.4V148.2M340.3,163.8V136.3M341.3,157.2V136.3M343.3,159.4V140.4M344.3,155.0V140.4M347.3,155.0V149.5M348.3,156.1V149.5M349.3,159.1V149.5M353.3,164.2V137.6M354.3,164.4V137.6M355.3,157.8V141.9M356.3,164.8V141.9M360.3,157.2V142.0M361.3,160.6V142.0M362.3,155.4V142.0M364.3,157.7V142.8M365.3,155.5V142.8M366.3,156.8V142.8M369.3,157.5V140.0M370.3,164.5V140.0M248.3,165.3V176.7M260.3,160.2V177.8M261.3,167.9V177.8M265.3,165.8V187.8M282.3,170.0V182.6M283.3,167.7V182.6M284.3,160.8V182.6M289.3,166.3V183.0M290.3,161.5V183.0M296.3,160.7V175.7M297.3,158.3V175.7M305.3,158.8V182.5M306.3,168.9V182.5M310.3,162.0V174.6M311.3,160.1V174.6M312.3,161.1V174.6M316.3,162.6V183.4M322.3,166.4V176.3M323.3,166.5V176.3M326.3,165.7V179.3M327.3,163.0V179.3M328.3,171.7V179.3M329.3,169.5V179.0M330.3,164.1V179.0M338.3,167.4V177.3M339.3,165.7V177.3M340.3,163.1V177.3M341.3,168.3V178.5M342.3,164.7V178.5M343.3,164.1V178.5M349.3,168.7V185.2M350.3,158.4V185.2M351.3,161.4V185.2M352.3,170.1V174.4M360.3,167.2V181.2M369.3,162.7V187.5M370.3,161.7V187.5M371.3,168.6V187.5M372.3,168.8V180.2M378.5,145.6V138.2M379.5,148.1V138.2M380.5,149.3V136.9M381.5,148.8V134.2M382.5,145.6V134.2M383.5,143.0V138.2M399.5,147.7V138.4M400.5,146.9V138.4M401.5,145.6V135.7M406.5,151.8V136.5M407.5,154.6V136.5M418.5,153.0V135.2M419.5,150.8V137.9M420.5,153.6V137.9M455.5,155.0V144.6M466.5,157.7V148.1M476.5,163.1V146.6M477.5,165.0V146.6M485.5,164.2V143.8M490.5,161.7V144.7M502.5,159.1V146.4M503.5,152.7V146.4M513.5,160.7V149.2M514.5,163.0V149.2M534.5,162.2V149.2M535.5,165.0V149.2M539.5,156.3V150.9M540.5,156.9V150.9M391.5,171.3V179.4M392.5,163.4V175.4M393.5,171.9V176.8M394.5,167.0V176.8M396.5,172.6V175.4M398.5,164.8V178.8M418.5,171.3V179.7M419.5,164.5V179.7M438.5,163.0V174.9M439.5,162.9V174.9M452.5,166.9V174.4M453.5,158.4V174.4M457.5,168.7V175.2M458.5,159.8V176.0M459.5,168.0V176.0M460.5,165.2V175.5M461.5,170.3V175.5M470.5,167.1V175.4M485.5,160.5V174.9M486.5,166.1V178.2M499.5,164.5V176.6M500.5,162.6V176.6M522.5,166.2V177.5M523.5,161.1V177.5M524.5,163.5V177.6M525.5,167.1V177.6M532.5,168.3V179.0M533.5,164.8V179.0M538.5,161.2V179.6M539.5,160.7V179.6" stroke="#0000ff" stroke-width="1.3" fill="none" stroke-dasharray="6 4"/>
<path d="M420.5,152.0V124.5" stroke="#0000ff" stroke-width="2.0" fill="none" stroke-dasharray="16 1.5"/>
<path d="M433.0,152.0V143.0" stroke="#0000ff" stroke-width="2.0" fill="none" stroke-dasharray="16 1.5"/>
<path d="M448.4,152.0V137.0" stroke="#0000ff" stroke-width="2.1" fill="none" stroke-dasharray="16 1.5"/>
<path d="M466.1,152.0V130.6" stroke="#0000ff" stroke-width="5.1" fill="none" stroke-dasharray="16 1.5"/>
<path d="M480.5,152.0V113.6" stroke="#0000ff" stroke-width="3.4" fill="none" stroke-dasharray="16 1.5"/>
<path d="M493.9,152.0V110.0" stroke="#0000ff" stroke-width="3.1" fill="none" stroke-dasharray="16 1.5"/>
<path d="M496.2,152.0V118.0" stroke="#0000ff" stroke-width="2.5" fill="none" stroke-dasharray="16 1.5"/>
<path d="M517.5,152.0V110.0" stroke="#0000ff" stroke-width="3.0" fill="none" stroke-dasharray="16 1.5"/>
<path d="M519.8,152.0V116.0" stroke="#0000ff" stroke-width="2.5" fill="none" stroke-dasharray="16 1.5"/>
<path d="M533.0,152.0V107.0" stroke="#0000ff" stroke-width="3.0" fill="none" stroke-dasharray="16 1.5"/>
<path d="M535.0,152.0V113.0" stroke="#0000ff" stroke-width="3.1" fill="none" stroke-dasharray="16 1.5"/>
<path d="M420.0,168.0V188.0" stroke="#0000ff" stroke-width="3.0" fill="none" stroke-dasharray="16 1.5"/>
<path d="M448.4,168.0V189.0" stroke="#0000ff" stroke-width="2.1" fill="none" stroke-dasharray="16 1.5"/>
<path d="M466.1,168.0V202.0" stroke="#0000ff" stroke-width="5.1" fill="none" stroke-dasharray="16 1.5"/>
<path d="M480.5,168.0V212.0" stroke="#0000ff" stroke-width="3.4" fill="none" stroke-dasharray="16 1.5"/>
<path d="M494.9,168.0V195.0" stroke="#0000ff" stroke-width="5.1" fill="none" stroke-dasharray="16 1.5"/>
<path d="M518.5,168.0V202.0" stroke="#0000ff" stroke-width="5.0" fill="none" stroke-dasharray="16 1.5"/>
<path d="M534.0,168.0V212.0" stroke="#0000ff" stroke-width="5.1" fill="none" stroke-dasharray="16 1.5"/>
<path d="M262.6,152.0V130.7" stroke="#0000ff" stroke-width="2.6" fill="none" stroke-dasharray="6 3"/>
<path d="M272.9,152.0V129.2" stroke="#0000ff" stroke-width="2.5" fill="none" stroke-dasharray="6 3"/>
<path d="M272.9,172.0V201.0" stroke="#0000ff" stroke-width="2.4" fill="none" stroke-dasharray="6 3"/>
<path d="M300.0,152.0V119.0" stroke="#0000ff" stroke-width="2.0" fill="none" stroke-dasharray="6 3"/>
<path d="M300.0,172.0V206.0" stroke="#0000ff" stroke-width="2.0" fill="none" stroke-dasharray="6 3"/>
<path d="M305.8,152.0V111.5" stroke="#0000ff" stroke-width="2.2" fill="none" stroke-dasharray="6 3"/>
<path d="M305.8,172.0V216.7" stroke="#0000ff" stroke-width="2.2" fill="none" stroke-dasharray="6 3"/>
<path d="M356.2,152.0V124.0" stroke="#0000ff" stroke-width="2.5" fill="none" stroke-dasharray="6 3"/>
<path d="M356.2,172.0V193.7" stroke="#0000ff" stroke-width="2.4" fill="none" stroke-dasharray="6 3"/>
<path d="M54.0,158.9H55.0V159.0H56.0V158.3H57.0V159.0H58.0V158.2H59.0V159.1H60.0V158.2H61.0V159.0H62.0V159.1H63.0V158.2H64.0V158.6H65.0V158.8H66.0V158.5H67.0V159.2H68.0V158.0H69.0V158.5H70.0V159.1H71.0V158.5H72.0V158.9H73.0V158.0H74.0V158.6H75.0V158.1H76.0V158.5H77.0V158.2H78.0V158.6H79.0V158.2H80.0V158.9H81.0V158.6H82.0V158.8H83.0V158.9H84.0V158.5H85.0V158.0H86.0V158.9H87.0V158.4H88.0V158.6H89.0V158.7H90.0V159.2H91.0V158.9H92.0V159.0H93.0V158.6H94.0V158.7H95.0V158.4H96.0V158.5H97.0V158.9H98.0V158.6H99.0V159.0H100.0V158.7H101.0V158.9H102.0V158.7H103.0V158.8H104.0V158.5H105.0V158.9H106.0V158.2H107.0V159.0H108.0V158.2H109.0V158.5H110.0V158.7H111.0V158.3H112.0V159.1H113.0V158.0H114.0V158.4H115.0V158.7H116.0V158.5H117.0V158.6H118.0V159.2H119.0V158.3H120.0V158.3H121.0V158.4H122.0V158.3H123.0V158.5H124.0V158.5H125.0V158.9H126.0V158.8H127.0V158.4H128.0V159.2H129.0V158.3H130.0V159.0H131.0V158.6H132.0V159.1H133.0V158.3H134.0V158.4H135.0V158.3H136.0V159.0H137.0V159.0H138.0V158.2H139.0V158.7H140.0V158.0H141.0V158.9H142.0V158.3H143.0V158.1H144.0V159.2H145.0V158.9H146.0V158.3H147.0V159.0H148.0V158.0H149.0V158.4H150.0V158.2H151.0V158.7H152.0V158.7H153.0V158.9H154.0V159.1H155.0V158.4H156.0V158.1H157.0V158.5H158.0V158.8H159.0V158.6H160.0V158.3H161.0V158.7H162.0V158.7H163.0V158.7H164.0V159.1H165.0V159.0H166.0V158.1H167.0V158.9H168.0V158.4H169.0V158.8H170.0V158.5H171.0V159.2H172.0V159.0H173.0V158.8H174.0V158.3H175.0V158.1H176.0V158.2H177.0V158.7H178.0V158.5H179.0V159.2H180.0V158.5H181.0V158.2H182.0V159.1H183.0V158.6H184.0V159.0H185.0V158.3H186.0V158.7H187.0V158.9H188.0V159.2H189.0V158.1H190.0V158.7H191.0V158.9H192.0V158.3H193.0V158.4H194.0V158.3H195.0V158.2H196.0V158.4H197.0V158.9H198.0V158.3H199.0V159.0H200.0V158.2H201.0V158.5H202.0V159.1H203.0V158.9H204.0V159.1H205.0V158.1H206.0V158.4H207.0V158.3H208.0V159.0H209.0V158.1H210.0V158.3H211.0V159.0H212.0V158.4H213.0V158.4H214.0V158.4H215.0V158.4H216.0V158.8H217.0V166.9H216.0V167.7H215.0V167.2H214.0V167.7H213.0V166.9H212.0V167.7H211.0V167.5H210.0V166.8H209.0V166.9H208.0V167.7H207.0V167.9H206.0V167.2H205.0V167.3H204.0V167.1H203.0V166.9H202.0V166.9H201.0V166.9H200.0V167.2H199.0V168.0H198.0V167.9H197.0V167.8H196.0V167.8H195.0V166.9H194.0V167.6H193.0V167.4H192.0V166.8H191.0V167.6H190.0V167.1H189.0V167.6H188.0V167.6H187.0V166.9H186.0V167.7H185.0V167.9H184.0V167.2H183.0V167.8H182.0V166.9H181.0V167.8H180.0V168.0H179.0V167.4H178.0V167.1H177.0V167.4H176.0V167.8H175.0V167.7H174.0V167.5H173.0V167.7H172.0V167.2H171.0V167.2H170.0V167.0H169.0V167.5H168.0V166.8H167.0V167.4H166.0V167.7H165.0V167.4H164.0V167.4H163.0V167.1H162.0V166.9H161.0V168.0H160.0V167.8H159.0V167.0H158.0V166.8H157.0V167.0H156.0V167.1H155.0V167.8H154.0V167.5H153.0V167.7H152.0V167.1H151.0V167.7H150.0V167.2H149.0V167.4H148.0V167.2H147.0V167.5H146.0V166.8H145.0V167.2H144.0V167.6H143.0V167.2H142.0V167.8H141.0V167.5H140.0V167.4H139.0V166.8H138.0V167.6H137.0V167.2H136.0V167.3H135.0V167.7H134.0V167.1H133.0V167.3H132.0V167.7H131.0V168.0H130.0V167.6H129.0V167.9H128.0V167.2H127.0V167.8H126.0V167.0H125.0V167.5H124.0V167.8H123.0V167.6H122.0V167.2H121.0V167.7H120.0V167.1H119.0V167.4H118.0V167.2H117.0V166.8H116.0V166.9H115.0V167.0H114.0V167.5H113.0V167.6H112.0V167.8H111.0V167.7H110.0V167.3H109.0V167.2H108.0V167.3H107.0V167.1H106.0V166.9H105.0V167.7H104.0V167.0H103.0V167.0H102.0V167.7H101.0V167.8H100.0V167.9H99.0V167.5H98.0V167.4H97.0V167.7H96.0V167.5H95.0V168.0H94.0V168.0H93.0V167.5H92.0V167.9H91.0V167.2H90.0V167.0H89.0V167.1H88.0V167.7H87.0V167.2H86.0V166.8H85.0V168.0H84.0V167.5H83.0V167.4H82.0V166.8H81.0V167.2H80.0V167.7H79.0V167.1H78.0V167.6H77.0V168.0H76.0V167.4H75.0V167.6H74.0V167.4H73.0V167.4H72.0V167.3H71.0V168.0H70.0V167.0H69.0V166.9H68.0V167.5H67.0V167.9H66.0V167.8H65.0V167.0H64.0V167.2H63.0V167.2H62.0V167.8H61.0V167.0H60.0V167.2H59.0V167.8H58.0V167.4H57.0V167.8H56.0V167.2H55.0V167.2H54.0Z" fill="#00ff00"/>
<path d="M221.8,159.1H222.8V158.5H223.8V159.3H224.8V159.5H225.8V159.6H226.8V159.4H227.8V158.6H228.8V158.8H229.8V159.0H230.8V159.6H231.8V159.4H232.8V159.1H233.8V158.7H234.8V159.2H235.8V158.9H236.8V158.9H237.8V159.7H238.8V158.9H239.8V159.1H240.8V158.9H241.8V158.7H242.8V158.5H243.8V158.8H244.8V158.8H245.8V158.8H246.8V158.7H247.8V159.3H248.8V159.0H249.8V159.0H250.8V158.5H251.8V158.5H252.8V159.7H253.8V159.6H254.8V159.5H255.8V159.1H256.8V159.5H257.8V159.3H258.8V158.7H259.8V159.2H260.8V159.2H261.8V158.8H262.8V159.2H263.8V159.2H264.8V158.7H265.8V158.6H266.8V159.3H267.8V159.4H268.8V159.3H269.8V159.2H270.8V159.3H271.8V159.1H272.8V159.0H273.8V158.6H274.8V159.1H275.8V159.7H276.8V159.4H277.8V158.7H278.8V159.3H279.8V158.7H280.8V159.2H281.8V159.7H282.8V159.6H283.8V159.1H284.8V158.6H285.8V158.9H286.8V158.9H287.8V159.1H288.8V158.9H289.8V159.5H290.8V159.3H291.8V159.7H292.8V159.1H293.8V158.8H294.8V159.4H295.8V159.1H296.8V159.5H297.8V158.7H298.8V159.1H299.8V159.7H300.8V158.6H301.8V158.7H302.8V158.8H303.8V159.2H304.8V159.4H305.8V159.2H306.8V158.9H307.8V159.6H308.8V158.6H309.8V158.9H310.8V158.8H311.8V158.8H312.8V158.7H313.8V159.7H314.8V159.7H315.8V159.2H316.8V159.6H317.8V158.8H318.8V159.5H319.8V159.4H320.8V159.5H321.8V159.3H322.8V158.5H323.8V159.4H324.8V159.0H325.8V159.2H326.8V158.8H327.8V159.6H328.8V159.6H329.8V159.4H330.8V159.6H331.8V159.3H332.8V159.0H333.8V159.6H334.8V159.6H335.8V158.7H336.8V159.2H337.8V158.6H338.8V158.5H339.8V158.6H340.8V159.5H341.8V158.7H342.8V158.6H343.8V159.6H344.8V158.6H345.8V159.1H346.8V159.0H347.8V159.1H348.8V158.6H349.8V159.1H350.8V158.6H351.8V158.9H352.8V159.4H353.8V158.7H354.8V158.5H355.8V159.3H356.8V159.5H357.8V158.7H358.8V158.6H359.8V158.7H360.8V158.6H361.8V159.1H362.8V159.7H363.8V159.2H364.8V158.6H365.8V158.8H366.8V159.4H367.8V159.1H368.8V159.1H369.8V159.4H370.8V159.0H371.8V158.7H372.8V167.1H371.8V167.2H370.8V167.3H369.8V166.5H368.8V166.8H367.8V166.8H366.8V166.4H365.8V166.4H364.8V166.5H363.8V167.4H362.8V166.8H361.8V167.1H360.8V166.6H359.8V167.2H358.8V167.0H357.8V166.7H356.8V167.5H355.8V167.3H354.8V166.7H353.8V166.6H352.8V166.6H351.8V166.9H350.8V167.2H349.8V166.6H348.8V166.9H347.8V167.1H346.8V166.3H345.8V166.5H344.8V166.4H343.8V166.5H342.8V167.5H341.8V167.0H340.8V166.4H339.8V167.4H338.8V166.6H337.8V167.2H336.8V167.0H335.8V167.2H334.8V166.7H333.8V167.3H332.8V166.7H331.8V166.5H330.8V167.0H329.8V167.1H328.8V166.6H327.8V166.7H326.8V167.5H325.8V166.7H324.8V167.1H323.8V167.2H322.8V166.4H321.8V167.4H320.8V166.7H319.8V167.2H318.8V167.1H317.8V166.6H316.8V166.3H315.8V166.4H314.8V167.1H313.8V167.2H312.8V166.4H311.8V167.4H310.8V166.5H309.8V166.7H308.8V167.1H307.8V166.7H306.8V167.2H305.8V166.8H304.8V166.4H303.8V166.9H302.8V167.2H301.8V167.0H300.8V166.8H299.8V166.3H298.8V166.8H297.8V167.1H296.8V166.7H295.8V167.2H294.8V167.3H293.8V167.0H292.8V167.3H291.8V167.4H290.8V166.5H289.8V167.2H288.8V167.4H287.8V166.9H286.8V166.9H285.8V167.1H284.8V167.3H283.8V167.1H282.8V166.8H281.8V166.4H280.8V167.5H279.8V167.0H278.8V167.0H277.8V167.5H276.8V167.4H275.8V167.1H274.8V166.4H273.8V166.5H272.8V167.2H271.8V167.1H270.8V166.3H269.8V166.7H268.8V166.5H267.8V166.5H266.8V167.2H265.8V166.8H264.8V166.4H263.8V167.4H262.8V167.1H261.8V167.2H260.8V166.6H259.8V166.8H258.8V167.0H257.8V166.3H256.8V166.9H255.8V167.0H254.8V167.1H253.8V166.8H252.8V166.7H251.8V166.9H250.8V166.7H249.8V166.7H248.8V166.7H247.8V167.0H246.8V167.3H245.8V166.7H244.8V166.6H243.8V167.4H242.8V167.0H241.8V167.0H240.8V167.0H239.8V166.3H238.8V166.3H237.8V166.3H236.8V167.0H235.8V166.5H234.8V167.0H233.8V166.3H232.8V166.3H231.8V167.2H230.8V166.8H229.8V166.4H228.8V167.1H227.8V167.1H226.8V167.2H225.8V167.1H224.8V167.5H223.8V166.9H222.8V166.5H221.8Z" fill="#00ff00"/>
<path d="M378.0,159.0H379.0V157.9H380.0V157.8H381.0V158.9H382.0V158.9H383.0V157.8H384.0V157.8H385.0V158.6H386.0V158.7H387.0V159.0H388.0V158.9H389.0V158.3H390.0V158.2H391.0V158.5H392.0V158.3H393.0V158.5H394.0V158.2H395.0V159.0H396.0V158.0H397.0V158.4H398.0V158.6H399.0V157.9H400.0V158.1H401.0V158.9H402.0V157.8H403.0V158.7H404.0V158.0H405.0V158.2H406.0V158.9H407.0V158.3H408.0V158.3H409.0V158.8H410.0V158.1H411.0V158.4H412.0V157.8H413.0V158.9H414.0V158.5H415.0V158.8H416.0V157.9H417.0V158.1H418.0V158.4H419.0V159.0H420.0V158.6H421.0V158.4H422.0V158.8H423.0V158.5H424.0V158.3H425.0V158.0H426.0V158.2H427.0V158.7H428.0V158.1H429.0V158.2H430.0V158.9H431.0V158.5H432.0V158.0H433.0V158.5H434.0V159.0H435.0V158.5H436.0V159.0H437.0V158.8H438.0V158.2H439.0V158.5H440.0V158.0H441.0V158.6H442.0V158.9H443.0V158.0H444.0V158.0H445.0V158.7H446.0V158.6H447.0V158.3H448.0V158.6H449.0V158.3H450.0V158.9H451.0V158.4H452.0V158.6H453.0V157.9H454.0V158.0H455.0V158.4H456.0V158.7H457.0V158.3H458.0V158.7H459.0V158.3H460.0V158.1H461.0V158.7H462.0V158.8H463.0V158.2H464.0V158.6H465.0V157.8H466.0V158.9H467.0V157.9H468.0V158.5H469.0V158.2H470.0V158.9H471.0V158.6H472.0V158.1H473.0V158.3H474.0V158.0H475.0V158.1H476.0V158.2H477.0V158.9H478.0V158.2H479.0V158.6H480.0V158.7H481.0V157.9H482.0V158.9H483.0V158.0H484.0V158.3H485.0V158.9H486.0V158.3H487.0V158.4H488.0V158.6H489.0V158.0H490.0V158.4H491.0V158.9H492.0V158.4H493.0V158.2H494.0V157.8H495.0V158.1H496.0V158.3H497.0V157.9H498.0V158.1H499.0V158.7H500.0V158.5H501.0V158.9H502.0V158.3H503.0V158.8H504.0V157.9H505.0V158.3H506.0V157.8H507.0V157.9H508.0V157.9H509.0V158.7H510.0V158.1H511.0V158.9H512.0V158.0H513.0V158.7H514.0V159.0H515.0V158.3H516.0V158.3H517.0V158.6H518.0V158.1H519.0V157.9H520.0V158.0H521.0V158.4H522.0V158.3H523.0V158.5H524.0V158.9H525.0V158.4H526.0V158.2H527.0V158.8H528.0V158.2H529.0V158.2H530.0V158.9H531.0V158.4H532.0V158.6H533.0V158.5H534.0V158.2H535.0V158.1H536.0V158.9H537.0V158.3H538.0V158.4H539.0V158.8H540.0V158.9H541.0V158.7H542.0V158.6H543.0V158.0H544.0V158.1H545.0V166.4H544.0V166.9H543.0V167.0H542.0V166.6H541.0V166.0H540.0V166.3H539.0V167.1H538.0V166.2H537.0V166.4H536.0V166.4H535.0V166.7H534.0V166.7H533.0V166.5H532.0V166.8H531.0V167.0H530.0V166.6H529.0V166.0H528.0V166.2H527.0V166.2H526.0V166.8H525.0V166.9H524.0V167.1H523.0V167.0H522.0V166.7H521.0V166.8H520.0V166.8H519.0V166.5H518.0V166.3H517.0V166.0H516.0V166.2H515.0V167.2H514.0V166.8H513.0V167.1H512.0V166.4H511.0V166.0H510.0V166.1H509.0V166.0H508.0V166.9H507.0V167.0H506.0V166.2H505.0V167.0H504.0V166.9H503.0V166.1H502.0V166.3H501.0V166.1H500.0V166.7H499.0V166.8H498.0V166.9H497.0V166.9H496.0V166.2H495.0V166.3H494.0V167.1H493.0V166.5H492.0V166.7H491.0V167.0H490.0V166.7H489.0V166.8H488.0V167.0H487.0V167.2H486.0V166.8H485.0V166.3H484.0V167.2H483.0V167.2H482.0V166.7H481.0V166.2H480.0V167.2H479.0V166.9H478.0V166.1H477.0V166.5H476.0V166.8H475.0V166.7H474.0V166.6H473.0V167.1H472.0V166.8H471.0V166.2H470.0V167.2H469.0V167.1H468.0V166.9H467.0V166.2H466.0V166.3H465.0V166.5H464.0V166.3H463.0V167.0H462.0V167.1H461.0V167.1H460.0V167.0H459.0V166.4H458.0V166.2H457.0V166.7H456.0V166.6H455.0V166.5H454.0V167.0H453.0V167.2H452.0V166.3H451.0V166.4H450.0V166.3H449.0V167.1H448.0V166.7H447.0V166.7H446.0V167.0H445.0V167.0H444.0V167.1H443.0V166.6H442.0V166.9H441.0V166.6H440.0V166.8H439.0V166.5H438.0V167.0H437.0V166.5H436.0V166.2H435.0V167.0H434.0V166.8H433.0V166.5H432.0V166.3H431.0V166.6H430.0V166.0H429.0V166.0H428.0V166.2H427.0V166.7H426.0V166.8H425.0V166.5H424.0V167.0H423.0V167.0H422.0V166.9H421.0V167.1H420.0V166.2H419.0V167.1H418.0V166.4H417.0V167.0H416.0V166.4H415.0V166.2H414.0V166.5H413.0V166.5H412.0V166.1H411.0V166.6H410.0V166.7H409.0V167.1H408.0V166.3H407.0V166.7H406.0V167.0H405.0V166.9H404.0V166.3H403.0V166.6H402.0V166.9H401.0V167.2H400.0V166.4H399.0V166.8H398.0V166.9H397.0V167.2H396.0V166.1H395.0V166.2H394.0V167.1H393.0V166.5H392.0V166.9H391.0V166.9H390.0V166.2H389.0V166.4H388.0V166.7H387.0V166.3H386.0V167.2H385.0V166.9H384.0V167.1H383.0V166.2H382.0V167.2H381.0V166.1H380.0V166.9H379.0V166.9H378.0Z" fill="#00ff00"/>
<line x1="219.0" y1="37.3" x2="219.0" y2="287.6" stroke="#808080" stroke-width="5.5" stroke-linecap="round"/>
<line x1="375.0" y1="37.3" x2="375.0" y2="287.6" stroke="#808080" stroke-width="5.5" stroke-linecap="round"/>
<text y="294.7" font-family="Liberation Sans, Arial, sans-serif" font-weight="bold" font-size="14"><tspan x="30.2" dy="3.3" font-size="19" stroke="#000" stroke-width="0.5">−</tspan><tspan x="42.51" dy="-3.3">8</tspan></text>
<text y="263.1" font-family="Liberation Sans, Arial, sans-serif" font-weight="bold" font-size="14"><tspan x="30.2" dy="3.3" font-size="19" stroke="#000" stroke-width="0.5">−</tspan><tspan x="42.51" dy="-3.3">6</tspan></text>
<text y="231.5" font-family="Liberation Sans, Arial, sans-serif" font-weight="bold" font-size="14"><tspan x="30.2" dy="3.3" font-size="19" stroke="#000" stroke-width="0.5">−</tspan><tspan x="42.51" dy="-3.3">4</tspan></text>
<text y="199.9" font-family="Liberation Sans, Arial, sans-serif" font-weight="bold" font-size="14"><tspan x="30.2" dy="3.3" font-size="19" stroke="#000" stroke-width="0.5">−</tspan><tspan x="42.51" dy="-3.3">2</tspan></text>
<text x="50.3" y="168.3" font-family="Liberation Sans, Arial, sans-serif" font-weight="bold" font-size="14" text-anchor="end">0</text>
<text x="50.3" y="136.7" font-family="Liberation Sans, Arial, sans-serif" font-weight="bold" font-size="14" text-anchor="end">2</text>
<text x="50.3" y="105.1" font-family="Liberation Sans, Arial, sans-serif" font-weight="bold" font-size="14" text-anchor="end">4</text>
<text x="50.3" y="73.5" font-family="Liberation Sans, Arial, sans-serif" font-weight="bold" font-size="14" text-anchor="end">6</text>
<text x="50.3" y="41.9" font-family="Liberation Sans, Arial, sans-serif" font-weight="bold" font-size="14" text-anchor="end">8</text>
<text x="55.00" y="308.2" font-family="Liberation Sans, Arial, sans-serif" font-weight="bold" font-size="13.6" text-anchor="middle">0</text>
<text x="122.90" y="308.2" font-family="Liberation Sans, Arial, sans-serif" font-weight="bold" font-size="13.6" text-anchor="middle">2</text>
<text x="190.80" y="308.2" font-family="Liberation Sans, Arial, sans-serif" font-weight="bold" font-size="13.6" text-anchor="middle">4</text>
<text x="258.70" y="308.2" font-family="Liberation Sans, Arial, sans-serif" font-weight="bold" font-size="13.6" text-anchor="middle">6</text>
<text x="326.60" y="308.2" font-family="Liberation Sans, Arial, sans-serif" font-weight="bold" font-size="13.6" text-anchor="middle">8</text>
<text x="394.50" y="308.2" font-family="Liberation Sans, Arial, sans-serif" font-weight="bold" font-size="13.6" text-anchor="middle">10</text>
<text x="462.40" y="308.2" font-family="Liberation Sans, Arial, sans-serif" font-weight="bold" font-size="13.6" text-anchor="middle">12</text>
<text x="530.30" y="308.2" font-family="Liberation Sans, Arial, sans-serif" font-weight="bold" font-size="13.6" text-anchor="middle">14</text>
<text x="299.5" y="329" font-family="Liberation Sans, Arial, sans-serif" font-weight="bold" font-size="14.6" text-anchor="middle">Samples</text>
<text font-family="Liberation Sans, Arial, sans-serif" font-weight="bold" font-size="14"><tspan x="510.8" y="333.5" font-weight="normal" font-size="17">×</tspan><tspan x="521.5" y="331.2">10</tspan><tspan x="537.6" y="325.0" font-size="10.3">5</tspan></text>
<text transform="translate(21,167.3) rotate(-90)" font-family="Liberation Sans, Arial, sans-serif" font-weight="bold" font-size="14.5" text-anchor="middle">Acceleration Vibration Signals (m/s<tspan font-size="10" dy="-8.5">2</tspan><tspan dy="8.5">)</tspan></text>
<text transform="translate(112.10,23.0) scale(1,1.04)" font-family="Liberation Serif, Times New Roman, serif" font-weight="bold" font-size="23.5" letter-spacing="0.25">(I)</text>
<text transform="translate(277.90,23.0) scale(1,1.04)" font-family="Liberation Serif, Times New Roman, serif" font-weight="bold" font-size="23.5" letter-spacing="0.25">(II)</text>
<text transform="translate(433.10,23.0) scale(1,1.04)" font-family="Liberation Serif, Times New Roman, serif" font-weight="bold" font-size="23.5" letter-spacing="0.25">(III)</text>
<rect x="461" y="36" width="83.4" height="68" fill="#fff" stroke="#7c7c7c" stroke-width="1.3"/>
<line x1="465.5" y1="46.3" x2="496.6" y2="46.3" stroke="#000" stroke-width="2.3" stroke-dasharray="2 1"/>
<text x="498.5" y="51.2" font-family="Liberation Sans, Arial, sans-serif" font-weight="bold" font-size="12.2">Outer</text>
<line x1="465.5" y1="62.3" x2="496.6" y2="62.3" stroke="#f00" stroke-width="2.3" stroke-dasharray="6 2 2.5 2"/>
<text x="498.5" y="67.2" font-family="Liberation Sans, Arial, sans-serif" font-weight="bold" font-size="12.2">Inner</text>
<line x1="465.5" y1="78.6" x2="496.6" y2="78.6" stroke="#00f" stroke-width="2.3" stroke-dasharray="6.5 5.5"/>
<text x="498.5" y="83.5" font-family="Liberation Sans, Arial, sans-serif" font-weight="bold" font-size="12.2">Ball</text>
<line x1="465.5" y1="95" x2="496.6" y2="95" stroke="#0f0" stroke-width="2.3"/>
<text x="498.5" y="99.9" font-family="Liberation Sans, Arial, sans-serif" font-weight="bold" font-size="12.2">Normal</text>
</svg>
</body></html>
